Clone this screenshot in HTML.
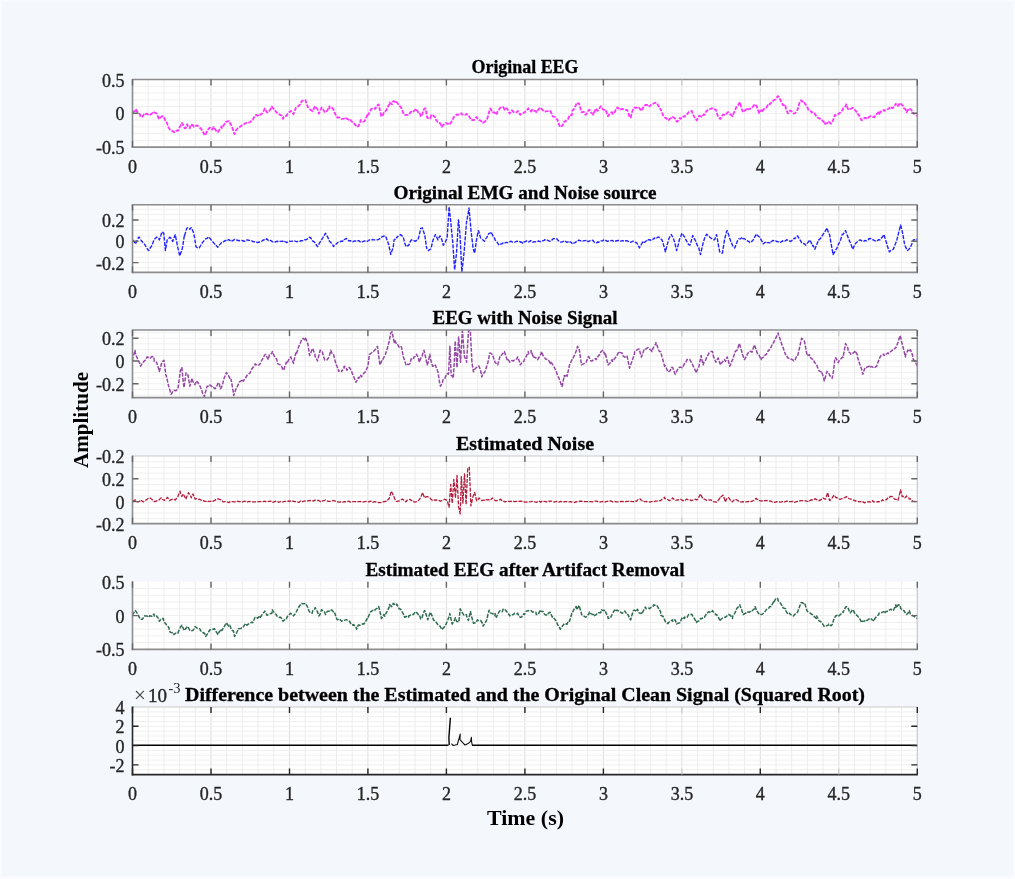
<!DOCTYPE html>
<html><head><meta charset="utf-8"><title>EEG artifact removal</title>
<style>html,body{margin:0;padding:0;background:#f4f7fc;}svg{display:block;filter:blur(0.7px)}</style>
</head><body>
<svg width="1015" height="879" viewBox="0 0 1015 879"><rect width="1015" height="879" fill="#f9fbfe"/><rect x="2" y="1.5" width="1011" height="875" fill="#f4f7fc"/><rect x="132.5" y="79.5" width="784.8" height="67.6" fill="#ffffff"/><line x1="148.2" y1="79.5" x2="148.2" y2="147.1" stroke="#ececec" stroke-width="1"/><line x1="163.9" y1="79.5" x2="163.9" y2="147.1" stroke="#ececec" stroke-width="1"/><line x1="179.6" y1="79.5" x2="179.6" y2="147.1" stroke="#ececec" stroke-width="1"/><line x1="195.3" y1="79.5" x2="195.3" y2="147.1" stroke="#ececec" stroke-width="1"/><line x1="226.7" y1="79.5" x2="226.7" y2="147.1" stroke="#ececec" stroke-width="1"/><line x1="242.4" y1="79.5" x2="242.4" y2="147.1" stroke="#ececec" stroke-width="1"/><line x1="258.1" y1="79.5" x2="258.1" y2="147.1" stroke="#ececec" stroke-width="1"/><line x1="273.8" y1="79.5" x2="273.8" y2="147.1" stroke="#ececec" stroke-width="1"/><line x1="305.2" y1="79.5" x2="305.2" y2="147.1" stroke="#ececec" stroke-width="1"/><line x1="320.9" y1="79.5" x2="320.9" y2="147.1" stroke="#ececec" stroke-width="1"/><line x1="336.5" y1="79.5" x2="336.5" y2="147.1" stroke="#ececec" stroke-width="1"/><line x1="352.2" y1="79.5" x2="352.2" y2="147.1" stroke="#ececec" stroke-width="1"/><line x1="383.6" y1="79.5" x2="383.6" y2="147.1" stroke="#ececec" stroke-width="1"/><line x1="399.3" y1="79.5" x2="399.3" y2="147.1" stroke="#ececec" stroke-width="1"/><line x1="415.0" y1="79.5" x2="415.0" y2="147.1" stroke="#ececec" stroke-width="1"/><line x1="430.7" y1="79.5" x2="430.7" y2="147.1" stroke="#ececec" stroke-width="1"/><line x1="462.1" y1="79.5" x2="462.1" y2="147.1" stroke="#ececec" stroke-width="1"/><line x1="477.8" y1="79.5" x2="477.8" y2="147.1" stroke="#ececec" stroke-width="1"/><line x1="493.5" y1="79.5" x2="493.5" y2="147.1" stroke="#ececec" stroke-width="1"/><line x1="509.2" y1="79.5" x2="509.2" y2="147.1" stroke="#ececec" stroke-width="1"/><line x1="540.6" y1="79.5" x2="540.6" y2="147.1" stroke="#ececec" stroke-width="1"/><line x1="556.3" y1="79.5" x2="556.3" y2="147.1" stroke="#ececec" stroke-width="1"/><line x1="572.0" y1="79.5" x2="572.0" y2="147.1" stroke="#ececec" stroke-width="1"/><line x1="587.7" y1="79.5" x2="587.7" y2="147.1" stroke="#ececec" stroke-width="1"/><line x1="619.1" y1="79.5" x2="619.1" y2="147.1" stroke="#ececec" stroke-width="1"/><line x1="634.8" y1="79.5" x2="634.8" y2="147.1" stroke="#ececec" stroke-width="1"/><line x1="650.5" y1="79.5" x2="650.5" y2="147.1" stroke="#ececec" stroke-width="1"/><line x1="666.2" y1="79.5" x2="666.2" y2="147.1" stroke="#ececec" stroke-width="1"/><line x1="697.6" y1="79.5" x2="697.6" y2="147.1" stroke="#ececec" stroke-width="1"/><line x1="713.3" y1="79.5" x2="713.3" y2="147.1" stroke="#ececec" stroke-width="1"/><line x1="728.9" y1="79.5" x2="728.9" y2="147.1" stroke="#ececec" stroke-width="1"/><line x1="744.6" y1="79.5" x2="744.6" y2="147.1" stroke="#ececec" stroke-width="1"/><line x1="776.0" y1="79.5" x2="776.0" y2="147.1" stroke="#ececec" stroke-width="1"/><line x1="791.7" y1="79.5" x2="791.7" y2="147.1" stroke="#ececec" stroke-width="1"/><line x1="807.4" y1="79.5" x2="807.4" y2="147.1" stroke="#ececec" stroke-width="1"/><line x1="823.1" y1="79.5" x2="823.1" y2="147.1" stroke="#ececec" stroke-width="1"/><line x1="854.5" y1="79.5" x2="854.5" y2="147.1" stroke="#ececec" stroke-width="1"/><line x1="870.2" y1="79.5" x2="870.2" y2="147.1" stroke="#ececec" stroke-width="1"/><line x1="885.9" y1="79.5" x2="885.9" y2="147.1" stroke="#ececec" stroke-width="1"/><line x1="901.6" y1="79.5" x2="901.6" y2="147.1" stroke="#ececec" stroke-width="1"/><line x1="211.0" y1="79.5" x2="211.0" y2="147.1" stroke="#dddddd" stroke-width="1"/><line x1="289.5" y1="79.5" x2="289.5" y2="147.1" stroke="#dddddd" stroke-width="1"/><line x1="367.9" y1="79.5" x2="367.9" y2="147.1" stroke="#dddddd" stroke-width="1"/><line x1="446.4" y1="79.5" x2="446.4" y2="147.1" stroke="#dddddd" stroke-width="1"/><line x1="524.9" y1="79.5" x2="524.9" y2="147.1" stroke="#dddddd" stroke-width="1"/><line x1="603.4" y1="79.5" x2="603.4" y2="147.1" stroke="#dddddd" stroke-width="1"/><line x1="681.9" y1="79.5" x2="681.9" y2="147.1" stroke="#dddddd" stroke-width="1"/><line x1="760.3" y1="79.5" x2="760.3" y2="147.1" stroke="#dddddd" stroke-width="1"/><line x1="838.8" y1="79.5" x2="838.8" y2="147.1" stroke="#dddddd" stroke-width="1"/><line x1="132.5" y1="86.3" x2="917.3" y2="86.3" stroke="#efefef" stroke-width="1"/><line x1="132.5" y1="93.0" x2="917.3" y2="93.0" stroke="#efefef" stroke-width="1"/><line x1="132.5" y1="99.8" x2="917.3" y2="99.8" stroke="#efefef" stroke-width="1"/><line x1="132.5" y1="106.5" x2="917.3" y2="106.5" stroke="#efefef" stroke-width="1"/><line x1="132.5" y1="113.3" x2="917.3" y2="113.3" stroke="#efefef" stroke-width="1"/><line x1="132.5" y1="120.1" x2="917.3" y2="120.1" stroke="#efefef" stroke-width="1"/><line x1="132.5" y1="126.8" x2="917.3" y2="126.8" stroke="#efefef" stroke-width="1"/><line x1="132.5" y1="133.6" x2="917.3" y2="133.6" stroke="#efefef" stroke-width="1"/><line x1="132.5" y1="140.3" x2="917.3" y2="140.3" stroke="#efefef" stroke-width="1"/><rect x="132.5" y="204.8" width="784.8" height="67.6" fill="#ffffff"/><line x1="148.2" y1="204.8" x2="148.2" y2="272.4" stroke="#ececec" stroke-width="1"/><line x1="163.9" y1="204.8" x2="163.9" y2="272.4" stroke="#ececec" stroke-width="1"/><line x1="179.6" y1="204.8" x2="179.6" y2="272.4" stroke="#ececec" stroke-width="1"/><line x1="195.3" y1="204.8" x2="195.3" y2="272.4" stroke="#ececec" stroke-width="1"/><line x1="226.7" y1="204.8" x2="226.7" y2="272.4" stroke="#ececec" stroke-width="1"/><line x1="242.4" y1="204.8" x2="242.4" y2="272.4" stroke="#ececec" stroke-width="1"/><line x1="258.1" y1="204.8" x2="258.1" y2="272.4" stroke="#ececec" stroke-width="1"/><line x1="273.8" y1="204.8" x2="273.8" y2="272.4" stroke="#ececec" stroke-width="1"/><line x1="305.2" y1="204.8" x2="305.2" y2="272.4" stroke="#ececec" stroke-width="1"/><line x1="320.9" y1="204.8" x2="320.9" y2="272.4" stroke="#ececec" stroke-width="1"/><line x1="336.5" y1="204.8" x2="336.5" y2="272.4" stroke="#ececec" stroke-width="1"/><line x1="352.2" y1="204.8" x2="352.2" y2="272.4" stroke="#ececec" stroke-width="1"/><line x1="383.6" y1="204.8" x2="383.6" y2="272.4" stroke="#ececec" stroke-width="1"/><line x1="399.3" y1="204.8" x2="399.3" y2="272.4" stroke="#ececec" stroke-width="1"/><line x1="415.0" y1="204.8" x2="415.0" y2="272.4" stroke="#ececec" stroke-width="1"/><line x1="430.7" y1="204.8" x2="430.7" y2="272.4" stroke="#ececec" stroke-width="1"/><line x1="462.1" y1="204.8" x2="462.1" y2="272.4" stroke="#ececec" stroke-width="1"/><line x1="477.8" y1="204.8" x2="477.8" y2="272.4" stroke="#ececec" stroke-width="1"/><line x1="493.5" y1="204.8" x2="493.5" y2="272.4" stroke="#ececec" stroke-width="1"/><line x1="509.2" y1="204.8" x2="509.2" y2="272.4" stroke="#ececec" stroke-width="1"/><line x1="540.6" y1="204.8" x2="540.6" y2="272.4" stroke="#ececec" stroke-width="1"/><line x1="556.3" y1="204.8" x2="556.3" y2="272.4" stroke="#ececec" stroke-width="1"/><line x1="572.0" y1="204.8" x2="572.0" y2="272.4" stroke="#ececec" stroke-width="1"/><line x1="587.7" y1="204.8" x2="587.7" y2="272.4" stroke="#ececec" stroke-width="1"/><line x1="619.1" y1="204.8" x2="619.1" y2="272.4" stroke="#ececec" stroke-width="1"/><line x1="634.8" y1="204.8" x2="634.8" y2="272.4" stroke="#ececec" stroke-width="1"/><line x1="650.5" y1="204.8" x2="650.5" y2="272.4" stroke="#ececec" stroke-width="1"/><line x1="666.2" y1="204.8" x2="666.2" y2="272.4" stroke="#ececec" stroke-width="1"/><line x1="697.6" y1="204.8" x2="697.6" y2="272.4" stroke="#ececec" stroke-width="1"/><line x1="713.3" y1="204.8" x2="713.3" y2="272.4" stroke="#ececec" stroke-width="1"/><line x1="728.9" y1="204.8" x2="728.9" y2="272.4" stroke="#ececec" stroke-width="1"/><line x1="744.6" y1="204.8" x2="744.6" y2="272.4" stroke="#ececec" stroke-width="1"/><line x1="776.0" y1="204.8" x2="776.0" y2="272.4" stroke="#ececec" stroke-width="1"/><line x1="791.7" y1="204.8" x2="791.7" y2="272.4" stroke="#ececec" stroke-width="1"/><line x1="807.4" y1="204.8" x2="807.4" y2="272.4" stroke="#ececec" stroke-width="1"/><line x1="823.1" y1="204.8" x2="823.1" y2="272.4" stroke="#ececec" stroke-width="1"/><line x1="854.5" y1="204.8" x2="854.5" y2="272.4" stroke="#ececec" stroke-width="1"/><line x1="870.2" y1="204.8" x2="870.2" y2="272.4" stroke="#ececec" stroke-width="1"/><line x1="885.9" y1="204.8" x2="885.9" y2="272.4" stroke="#ececec" stroke-width="1"/><line x1="901.6" y1="204.8" x2="901.6" y2="272.4" stroke="#ececec" stroke-width="1"/><line x1="211.0" y1="204.8" x2="211.0" y2="272.4" stroke="#dddddd" stroke-width="1"/><line x1="289.5" y1="204.8" x2="289.5" y2="272.4" stroke="#dddddd" stroke-width="1"/><line x1="367.9" y1="204.8" x2="367.9" y2="272.4" stroke="#dddddd" stroke-width="1"/><line x1="446.4" y1="204.8" x2="446.4" y2="272.4" stroke="#dddddd" stroke-width="1"/><line x1="524.9" y1="204.8" x2="524.9" y2="272.4" stroke="#dddddd" stroke-width="1"/><line x1="603.4" y1="204.8" x2="603.4" y2="272.4" stroke="#dddddd" stroke-width="1"/><line x1="681.9" y1="204.8" x2="681.9" y2="272.4" stroke="#dddddd" stroke-width="1"/><line x1="760.3" y1="204.8" x2="760.3" y2="272.4" stroke="#dddddd" stroke-width="1"/><line x1="838.8" y1="204.8" x2="838.8" y2="272.4" stroke="#dddddd" stroke-width="1"/><line x1="132.5" y1="209.3" x2="917.3" y2="209.3" stroke="#efefef" stroke-width="1"/><line x1="132.5" y1="214.6" x2="917.3" y2="214.6" stroke="#efefef" stroke-width="1"/><line x1="132.5" y1="220.0" x2="917.3" y2="220.0" stroke="#efefef" stroke-width="1"/><line x1="132.5" y1="225.3" x2="917.3" y2="225.3" stroke="#efefef" stroke-width="1"/><line x1="132.5" y1="230.6" x2="917.3" y2="230.6" stroke="#efefef" stroke-width="1"/><line x1="132.5" y1="236.0" x2="917.3" y2="236.0" stroke="#efefef" stroke-width="1"/><line x1="132.5" y1="241.3" x2="917.3" y2="241.3" stroke="#efefef" stroke-width="1"/><line x1="132.5" y1="246.6" x2="917.3" y2="246.6" stroke="#efefef" stroke-width="1"/><line x1="132.5" y1="252.0" x2="917.3" y2="252.0" stroke="#efefef" stroke-width="1"/><line x1="132.5" y1="257.3" x2="917.3" y2="257.3" stroke="#efefef" stroke-width="1"/><line x1="132.5" y1="262.6" x2="917.3" y2="262.6" stroke="#efefef" stroke-width="1"/><line x1="132.5" y1="267.9" x2="917.3" y2="267.9" stroke="#efefef" stroke-width="1"/><rect x="132.5" y="330.0" width="784.8" height="67.6" fill="#ffffff"/><line x1="148.2" y1="330.0" x2="148.2" y2="397.6" stroke="#ececec" stroke-width="1"/><line x1="163.9" y1="330.0" x2="163.9" y2="397.6" stroke="#ececec" stroke-width="1"/><line x1="179.6" y1="330.0" x2="179.6" y2="397.6" stroke="#ececec" stroke-width="1"/><line x1="195.3" y1="330.0" x2="195.3" y2="397.6" stroke="#ececec" stroke-width="1"/><line x1="226.7" y1="330.0" x2="226.7" y2="397.6" stroke="#ececec" stroke-width="1"/><line x1="242.4" y1="330.0" x2="242.4" y2="397.6" stroke="#ececec" stroke-width="1"/><line x1="258.1" y1="330.0" x2="258.1" y2="397.6" stroke="#ececec" stroke-width="1"/><line x1="273.8" y1="330.0" x2="273.8" y2="397.6" stroke="#ececec" stroke-width="1"/><line x1="305.2" y1="330.0" x2="305.2" y2="397.6" stroke="#ececec" stroke-width="1"/><line x1="320.9" y1="330.0" x2="320.9" y2="397.6" stroke="#ececec" stroke-width="1"/><line x1="336.5" y1="330.0" x2="336.5" y2="397.6" stroke="#ececec" stroke-width="1"/><line x1="352.2" y1="330.0" x2="352.2" y2="397.6" stroke="#ececec" stroke-width="1"/><line x1="383.6" y1="330.0" x2="383.6" y2="397.6" stroke="#ececec" stroke-width="1"/><line x1="399.3" y1="330.0" x2="399.3" y2="397.6" stroke="#ececec" stroke-width="1"/><line x1="415.0" y1="330.0" x2="415.0" y2="397.6" stroke="#ececec" stroke-width="1"/><line x1="430.7" y1="330.0" x2="430.7" y2="397.6" stroke="#ececec" stroke-width="1"/><line x1="462.1" y1="330.0" x2="462.1" y2="397.6" stroke="#ececec" stroke-width="1"/><line x1="477.8" y1="330.0" x2="477.8" y2="397.6" stroke="#ececec" stroke-width="1"/><line x1="493.5" y1="330.0" x2="493.5" y2="397.6" stroke="#ececec" stroke-width="1"/><line x1="509.2" y1="330.0" x2="509.2" y2="397.6" stroke="#ececec" stroke-width="1"/><line x1="540.6" y1="330.0" x2="540.6" y2="397.6" stroke="#ececec" stroke-width="1"/><line x1="556.3" y1="330.0" x2="556.3" y2="397.6" stroke="#ececec" stroke-width="1"/><line x1="572.0" y1="330.0" x2="572.0" y2="397.6" stroke="#ececec" stroke-width="1"/><line x1="587.7" y1="330.0" x2="587.7" y2="397.6" stroke="#ececec" stroke-width="1"/><line x1="619.1" y1="330.0" x2="619.1" y2="397.6" stroke="#ececec" stroke-width="1"/><line x1="634.8" y1="330.0" x2="634.8" y2="397.6" stroke="#ececec" stroke-width="1"/><line x1="650.5" y1="330.0" x2="650.5" y2="397.6" stroke="#ececec" stroke-width="1"/><line x1="666.2" y1="330.0" x2="666.2" y2="397.6" stroke="#ececec" stroke-width="1"/><line x1="697.6" y1="330.0" x2="697.6" y2="397.6" stroke="#ececec" stroke-width="1"/><line x1="713.3" y1="330.0" x2="713.3" y2="397.6" stroke="#ececec" stroke-width="1"/><line x1="728.9" y1="330.0" x2="728.9" y2="397.6" stroke="#ececec" stroke-width="1"/><line x1="744.6" y1="330.0" x2="744.6" y2="397.6" stroke="#ececec" stroke-width="1"/><line x1="776.0" y1="330.0" x2="776.0" y2="397.6" stroke="#ececec" stroke-width="1"/><line x1="791.7" y1="330.0" x2="791.7" y2="397.6" stroke="#ececec" stroke-width="1"/><line x1="807.4" y1="330.0" x2="807.4" y2="397.6" stroke="#ececec" stroke-width="1"/><line x1="823.1" y1="330.0" x2="823.1" y2="397.6" stroke="#ececec" stroke-width="1"/><line x1="854.5" y1="330.0" x2="854.5" y2="397.6" stroke="#ececec" stroke-width="1"/><line x1="870.2" y1="330.0" x2="870.2" y2="397.6" stroke="#ececec" stroke-width="1"/><line x1="885.9" y1="330.0" x2="885.9" y2="397.6" stroke="#ececec" stroke-width="1"/><line x1="901.6" y1="330.0" x2="901.6" y2="397.6" stroke="#ececec" stroke-width="1"/><line x1="211.0" y1="330.0" x2="211.0" y2="397.6" stroke="#dddddd" stroke-width="1"/><line x1="289.5" y1="330.0" x2="289.5" y2="397.6" stroke="#dddddd" stroke-width="1"/><line x1="367.9" y1="330.0" x2="367.9" y2="397.6" stroke="#dddddd" stroke-width="1"/><line x1="446.4" y1="330.0" x2="446.4" y2="397.6" stroke="#dddddd" stroke-width="1"/><line x1="524.9" y1="330.0" x2="524.9" y2="397.6" stroke="#dddddd" stroke-width="1"/><line x1="603.4" y1="330.0" x2="603.4" y2="397.6" stroke="#dddddd" stroke-width="1"/><line x1="681.9" y1="330.0" x2="681.9" y2="397.6" stroke="#dddddd" stroke-width="1"/><line x1="760.3" y1="330.0" x2="760.3" y2="397.6" stroke="#dddddd" stroke-width="1"/><line x1="838.8" y1="330.0" x2="838.8" y2="397.6" stroke="#dddddd" stroke-width="1"/><line x1="132.5" y1="332.6" x2="917.3" y2="332.6" stroke="#efefef" stroke-width="1"/><line x1="132.5" y1="338.2" x2="917.3" y2="338.2" stroke="#efefef" stroke-width="1"/><line x1="132.5" y1="343.9" x2="917.3" y2="343.9" stroke="#efefef" stroke-width="1"/><line x1="132.5" y1="349.6" x2="917.3" y2="349.6" stroke="#efefef" stroke-width="1"/><line x1="132.5" y1="355.3" x2="917.3" y2="355.3" stroke="#efefef" stroke-width="1"/><line x1="132.5" y1="361.0" x2="917.3" y2="361.0" stroke="#efefef" stroke-width="1"/><line x1="132.5" y1="366.7" x2="917.3" y2="366.7" stroke="#efefef" stroke-width="1"/><line x1="132.5" y1="372.4" x2="917.3" y2="372.4" stroke="#efefef" stroke-width="1"/><line x1="132.5" y1="378.1" x2="917.3" y2="378.1" stroke="#efefef" stroke-width="1"/><line x1="132.5" y1="383.8" x2="917.3" y2="383.8" stroke="#efefef" stroke-width="1"/><line x1="132.5" y1="389.4" x2="917.3" y2="389.4" stroke="#efefef" stroke-width="1"/><line x1="132.5" y1="395.1" x2="917.3" y2="395.1" stroke="#efefef" stroke-width="1"/><rect x="132.5" y="456.0" width="784.8" height="67.6" fill="#ffffff"/><line x1="148.2" y1="456.0" x2="148.2" y2="523.6" stroke="#ececec" stroke-width="1"/><line x1="163.9" y1="456.0" x2="163.9" y2="523.6" stroke="#ececec" stroke-width="1"/><line x1="179.6" y1="456.0" x2="179.6" y2="523.6" stroke="#ececec" stroke-width="1"/><line x1="195.3" y1="456.0" x2="195.3" y2="523.6" stroke="#ececec" stroke-width="1"/><line x1="226.7" y1="456.0" x2="226.7" y2="523.6" stroke="#ececec" stroke-width="1"/><line x1="242.4" y1="456.0" x2="242.4" y2="523.6" stroke="#ececec" stroke-width="1"/><line x1="258.1" y1="456.0" x2="258.1" y2="523.6" stroke="#ececec" stroke-width="1"/><line x1="273.8" y1="456.0" x2="273.8" y2="523.6" stroke="#ececec" stroke-width="1"/><line x1="305.2" y1="456.0" x2="305.2" y2="523.6" stroke="#ececec" stroke-width="1"/><line x1="320.9" y1="456.0" x2="320.9" y2="523.6" stroke="#ececec" stroke-width="1"/><line x1="336.5" y1="456.0" x2="336.5" y2="523.6" stroke="#ececec" stroke-width="1"/><line x1="352.2" y1="456.0" x2="352.2" y2="523.6" stroke="#ececec" stroke-width="1"/><line x1="383.6" y1="456.0" x2="383.6" y2="523.6" stroke="#ececec" stroke-width="1"/><line x1="399.3" y1="456.0" x2="399.3" y2="523.6" stroke="#ececec" stroke-width="1"/><line x1="415.0" y1="456.0" x2="415.0" y2="523.6" stroke="#ececec" stroke-width="1"/><line x1="430.7" y1="456.0" x2="430.7" y2="523.6" stroke="#ececec" stroke-width="1"/><line x1="462.1" y1="456.0" x2="462.1" y2="523.6" stroke="#ececec" stroke-width="1"/><line x1="477.8" y1="456.0" x2="477.8" y2="523.6" stroke="#ececec" stroke-width="1"/><line x1="493.5" y1="456.0" x2="493.5" y2="523.6" stroke="#ececec" stroke-width="1"/><line x1="509.2" y1="456.0" x2="509.2" y2="523.6" stroke="#ececec" stroke-width="1"/><line x1="540.6" y1="456.0" x2="540.6" y2="523.6" stroke="#ececec" stroke-width="1"/><line x1="556.3" y1="456.0" x2="556.3" y2="523.6" stroke="#ececec" stroke-width="1"/><line x1="572.0" y1="456.0" x2="572.0" y2="523.6" stroke="#ececec" stroke-width="1"/><line x1="587.7" y1="456.0" x2="587.7" y2="523.6" stroke="#ececec" stroke-width="1"/><line x1="619.1" y1="456.0" x2="619.1" y2="523.6" stroke="#ececec" stroke-width="1"/><line x1="634.8" y1="456.0" x2="634.8" y2="523.6" stroke="#ececec" stroke-width="1"/><line x1="650.5" y1="456.0" x2="650.5" y2="523.6" stroke="#ececec" stroke-width="1"/><line x1="666.2" y1="456.0" x2="666.2" y2="523.6" stroke="#ececec" stroke-width="1"/><line x1="697.6" y1="456.0" x2="697.6" y2="523.6" stroke="#ececec" stroke-width="1"/><line x1="713.3" y1="456.0" x2="713.3" y2="523.6" stroke="#ececec" stroke-width="1"/><line x1="728.9" y1="456.0" x2="728.9" y2="523.6" stroke="#ececec" stroke-width="1"/><line x1="744.6" y1="456.0" x2="744.6" y2="523.6" stroke="#ececec" stroke-width="1"/><line x1="776.0" y1="456.0" x2="776.0" y2="523.6" stroke="#ececec" stroke-width="1"/><line x1="791.7" y1="456.0" x2="791.7" y2="523.6" stroke="#ececec" stroke-width="1"/><line x1="807.4" y1="456.0" x2="807.4" y2="523.6" stroke="#ececec" stroke-width="1"/><line x1="823.1" y1="456.0" x2="823.1" y2="523.6" stroke="#ececec" stroke-width="1"/><line x1="854.5" y1="456.0" x2="854.5" y2="523.6" stroke="#ececec" stroke-width="1"/><line x1="870.2" y1="456.0" x2="870.2" y2="523.6" stroke="#ececec" stroke-width="1"/><line x1="885.9" y1="456.0" x2="885.9" y2="523.6" stroke="#ececec" stroke-width="1"/><line x1="901.6" y1="456.0" x2="901.6" y2="523.6" stroke="#ececec" stroke-width="1"/><line x1="211.0" y1="456.0" x2="211.0" y2="523.6" stroke="#dddddd" stroke-width="1"/><line x1="289.5" y1="456.0" x2="289.5" y2="523.6" stroke="#dddddd" stroke-width="1"/><line x1="367.9" y1="456.0" x2="367.9" y2="523.6" stroke="#dddddd" stroke-width="1"/><line x1="446.4" y1="456.0" x2="446.4" y2="523.6" stroke="#dddddd" stroke-width="1"/><line x1="524.9" y1="456.0" x2="524.9" y2="523.6" stroke="#dddddd" stroke-width="1"/><line x1="603.4" y1="456.0" x2="603.4" y2="523.6" stroke="#dddddd" stroke-width="1"/><line x1="681.9" y1="456.0" x2="681.9" y2="523.6" stroke="#dddddd" stroke-width="1"/><line x1="760.3" y1="456.0" x2="760.3" y2="523.6" stroke="#dddddd" stroke-width="1"/><line x1="838.8" y1="456.0" x2="838.8" y2="523.6" stroke="#dddddd" stroke-width="1"/><line x1="132.5" y1="461.7" x2="917.3" y2="461.7" stroke="#efefef" stroke-width="1"/><line x1="132.5" y1="467.4" x2="917.3" y2="467.4" stroke="#efefef" stroke-width="1"/><line x1="132.5" y1="473.1" x2="917.3" y2="473.1" stroke="#efefef" stroke-width="1"/><line x1="132.5" y1="478.8" x2="917.3" y2="478.8" stroke="#efefef" stroke-width="1"/><line x1="132.5" y1="484.5" x2="917.3" y2="484.5" stroke="#efefef" stroke-width="1"/><line x1="132.5" y1="490.2" x2="917.3" y2="490.2" stroke="#efefef" stroke-width="1"/><line x1="132.5" y1="495.9" x2="917.3" y2="495.9" stroke="#efefef" stroke-width="1"/><line x1="132.5" y1="501.6" x2="917.3" y2="501.6" stroke="#efefef" stroke-width="1"/><line x1="132.5" y1="507.3" x2="917.3" y2="507.3" stroke="#efefef" stroke-width="1"/><line x1="132.5" y1="513.0" x2="917.3" y2="513.0" stroke="#efefef" stroke-width="1"/><line x1="132.5" y1="518.7" x2="917.3" y2="518.7" stroke="#efefef" stroke-width="1"/><rect x="132.5" y="581.8" width="784.8" height="67.6" fill="#ffffff"/><line x1="148.2" y1="581.8" x2="148.2" y2="649.4" stroke="#ececec" stroke-width="1"/><line x1="163.9" y1="581.8" x2="163.9" y2="649.4" stroke="#ececec" stroke-width="1"/><line x1="179.6" y1="581.8" x2="179.6" y2="649.4" stroke="#ececec" stroke-width="1"/><line x1="195.3" y1="581.8" x2="195.3" y2="649.4" stroke="#ececec" stroke-width="1"/><line x1="226.7" y1="581.8" x2="226.7" y2="649.4" stroke="#ececec" stroke-width="1"/><line x1="242.4" y1="581.8" x2="242.4" y2="649.4" stroke="#ececec" stroke-width="1"/><line x1="258.1" y1="581.8" x2="258.1" y2="649.4" stroke="#ececec" stroke-width="1"/><line x1="273.8" y1="581.8" x2="273.8" y2="649.4" stroke="#ececec" stroke-width="1"/><line x1="305.2" y1="581.8" x2="305.2" y2="649.4" stroke="#ececec" stroke-width="1"/><line x1="320.9" y1="581.8" x2="320.9" y2="649.4" stroke="#ececec" stroke-width="1"/><line x1="336.5" y1="581.8" x2="336.5" y2="649.4" stroke="#ececec" stroke-width="1"/><line x1="352.2" y1="581.8" x2="352.2" y2="649.4" stroke="#ececec" stroke-width="1"/><line x1="383.6" y1="581.8" x2="383.6" y2="649.4" stroke="#ececec" stroke-width="1"/><line x1="399.3" y1="581.8" x2="399.3" y2="649.4" stroke="#ececec" stroke-width="1"/><line x1="415.0" y1="581.8" x2="415.0" y2="649.4" stroke="#ececec" stroke-width="1"/><line x1="430.7" y1="581.8" x2="430.7" y2="649.4" stroke="#ececec" stroke-width="1"/><line x1="462.1" y1="581.8" x2="462.1" y2="649.4" stroke="#ececec" stroke-width="1"/><line x1="477.8" y1="581.8" x2="477.8" y2="649.4" stroke="#ececec" stroke-width="1"/><line x1="493.5" y1="581.8" x2="493.5" y2="649.4" stroke="#ececec" stroke-width="1"/><line x1="509.2" y1="581.8" x2="509.2" y2="649.4" stroke="#ececec" stroke-width="1"/><line x1="540.6" y1="581.8" x2="540.6" y2="649.4" stroke="#ececec" stroke-width="1"/><line x1="556.3" y1="581.8" x2="556.3" y2="649.4" stroke="#ececec" stroke-width="1"/><line x1="572.0" y1="581.8" x2="572.0" y2="649.4" stroke="#ececec" stroke-width="1"/><line x1="587.7" y1="581.8" x2="587.7" y2="649.4" stroke="#ececec" stroke-width="1"/><line x1="619.1" y1="581.8" x2="619.1" y2="649.4" stroke="#ececec" stroke-width="1"/><line x1="634.8" y1="581.8" x2="634.8" y2="649.4" stroke="#ececec" stroke-width="1"/><line x1="650.5" y1="581.8" x2="650.5" y2="649.4" stroke="#ececec" stroke-width="1"/><line x1="666.2" y1="581.8" x2="666.2" y2="649.4" stroke="#ececec" stroke-width="1"/><line x1="697.6" y1="581.8" x2="697.6" y2="649.4" stroke="#ececec" stroke-width="1"/><line x1="713.3" y1="581.8" x2="713.3" y2="649.4" stroke="#ececec" stroke-width="1"/><line x1="728.9" y1="581.8" x2="728.9" y2="649.4" stroke="#ececec" stroke-width="1"/><line x1="744.6" y1="581.8" x2="744.6" y2="649.4" stroke="#ececec" stroke-width="1"/><line x1="776.0" y1="581.8" x2="776.0" y2="649.4" stroke="#ececec" stroke-width="1"/><line x1="791.7" y1="581.8" x2="791.7" y2="649.4" stroke="#ececec" stroke-width="1"/><line x1="807.4" y1="581.8" x2="807.4" y2="649.4" stroke="#ececec" stroke-width="1"/><line x1="823.1" y1="581.8" x2="823.1" y2="649.4" stroke="#ececec" stroke-width="1"/><line x1="854.5" y1="581.8" x2="854.5" y2="649.4" stroke="#ececec" stroke-width="1"/><line x1="870.2" y1="581.8" x2="870.2" y2="649.4" stroke="#ececec" stroke-width="1"/><line x1="885.9" y1="581.8" x2="885.9" y2="649.4" stroke="#ececec" stroke-width="1"/><line x1="901.6" y1="581.8" x2="901.6" y2="649.4" stroke="#ececec" stroke-width="1"/><line x1="211.0" y1="581.8" x2="211.0" y2="649.4" stroke="#dddddd" stroke-width="1"/><line x1="289.5" y1="581.8" x2="289.5" y2="649.4" stroke="#dddddd" stroke-width="1"/><line x1="367.9" y1="581.8" x2="367.9" y2="649.4" stroke="#dddddd" stroke-width="1"/><line x1="446.4" y1="581.8" x2="446.4" y2="649.4" stroke="#dddddd" stroke-width="1"/><line x1="524.9" y1="581.8" x2="524.9" y2="649.4" stroke="#dddddd" stroke-width="1"/><line x1="603.4" y1="581.8" x2="603.4" y2="649.4" stroke="#dddddd" stroke-width="1"/><line x1="681.9" y1="581.8" x2="681.9" y2="649.4" stroke="#dddddd" stroke-width="1"/><line x1="760.3" y1="581.8" x2="760.3" y2="649.4" stroke="#dddddd" stroke-width="1"/><line x1="838.8" y1="581.8" x2="838.8" y2="649.4" stroke="#dddddd" stroke-width="1"/><line x1="132.5" y1="588.6" x2="917.3" y2="588.6" stroke="#efefef" stroke-width="1"/><line x1="132.5" y1="595.3" x2="917.3" y2="595.3" stroke="#efefef" stroke-width="1"/><line x1="132.5" y1="602.1" x2="917.3" y2="602.1" stroke="#efefef" stroke-width="1"/><line x1="132.5" y1="608.8" x2="917.3" y2="608.8" stroke="#efefef" stroke-width="1"/><line x1="132.5" y1="615.6" x2="917.3" y2="615.6" stroke="#efefef" stroke-width="1"/><line x1="132.5" y1="622.4" x2="917.3" y2="622.4" stroke="#efefef" stroke-width="1"/><line x1="132.5" y1="629.1" x2="917.3" y2="629.1" stroke="#efefef" stroke-width="1"/><line x1="132.5" y1="635.9" x2="917.3" y2="635.9" stroke="#efefef" stroke-width="1"/><line x1="132.5" y1="642.6" x2="917.3" y2="642.6" stroke="#efefef" stroke-width="1"/><rect x="132.5" y="707.0" width="784.8" height="67.6" fill="#ffffff"/><line x1="148.2" y1="707.0" x2="148.2" y2="774.6" stroke="#ececec" stroke-width="1"/><line x1="163.9" y1="707.0" x2="163.9" y2="774.6" stroke="#ececec" stroke-width="1"/><line x1="179.6" y1="707.0" x2="179.6" y2="774.6" stroke="#ececec" stroke-width="1"/><line x1="195.3" y1="707.0" x2="195.3" y2="774.6" stroke="#ececec" stroke-width="1"/><line x1="226.7" y1="707.0" x2="226.7" y2="774.6" stroke="#ececec" stroke-width="1"/><line x1="242.4" y1="707.0" x2="242.4" y2="774.6" stroke="#ececec" stroke-width="1"/><line x1="258.1" y1="707.0" x2="258.1" y2="774.6" stroke="#ececec" stroke-width="1"/><line x1="273.8" y1="707.0" x2="273.8" y2="774.6" stroke="#ececec" stroke-width="1"/><line x1="305.2" y1="707.0" x2="305.2" y2="774.6" stroke="#ececec" stroke-width="1"/><line x1="320.9" y1="707.0" x2="320.9" y2="774.6" stroke="#ececec" stroke-width="1"/><line x1="336.5" y1="707.0" x2="336.5" y2="774.6" stroke="#ececec" stroke-width="1"/><line x1="352.2" y1="707.0" x2="352.2" y2="774.6" stroke="#ececec" stroke-width="1"/><line x1="383.6" y1="707.0" x2="383.6" y2="774.6" stroke="#ececec" stroke-width="1"/><line x1="399.3" y1="707.0" x2="399.3" y2="774.6" stroke="#ececec" stroke-width="1"/><line x1="415.0" y1="707.0" x2="415.0" y2="774.6" stroke="#ececec" stroke-width="1"/><line x1="430.7" y1="707.0" x2="430.7" y2="774.6" stroke="#ececec" stroke-width="1"/><line x1="462.1" y1="707.0" x2="462.1" y2="774.6" stroke="#ececec" stroke-width="1"/><line x1="477.8" y1="707.0" x2="477.8" y2="774.6" stroke="#ececec" stroke-width="1"/><line x1="493.5" y1="707.0" x2="493.5" y2="774.6" stroke="#ececec" stroke-width="1"/><line x1="509.2" y1="707.0" x2="509.2" y2="774.6" stroke="#ececec" stroke-width="1"/><line x1="540.6" y1="707.0" x2="540.6" y2="774.6" stroke="#ececec" stroke-width="1"/><line x1="556.3" y1="707.0" x2="556.3" y2="774.6" stroke="#ececec" stroke-width="1"/><line x1="572.0" y1="707.0" x2="572.0" y2="774.6" stroke="#ececec" stroke-width="1"/><line x1="587.7" y1="707.0" x2="587.7" y2="774.6" stroke="#ececec" stroke-width="1"/><line x1="619.1" y1="707.0" x2="619.1" y2="774.6" stroke="#ececec" stroke-width="1"/><line x1="634.8" y1="707.0" x2="634.8" y2="774.6" stroke="#ececec" stroke-width="1"/><line x1="650.5" y1="707.0" x2="650.5" y2="774.6" stroke="#ececec" stroke-width="1"/><line x1="666.2" y1="707.0" x2="666.2" y2="774.6" stroke="#ececec" stroke-width="1"/><line x1="697.6" y1="707.0" x2="697.6" y2="774.6" stroke="#ececec" stroke-width="1"/><line x1="713.3" y1="707.0" x2="713.3" y2="774.6" stroke="#ececec" stroke-width="1"/><line x1="728.9" y1="707.0" x2="728.9" y2="774.6" stroke="#ececec" stroke-width="1"/><line x1="744.6" y1="707.0" x2="744.6" y2="774.6" stroke="#ececec" stroke-width="1"/><line x1="776.0" y1="707.0" x2="776.0" y2="774.6" stroke="#ececec" stroke-width="1"/><line x1="791.7" y1="707.0" x2="791.7" y2="774.6" stroke="#ececec" stroke-width="1"/><line x1="807.4" y1="707.0" x2="807.4" y2="774.6" stroke="#ececec" stroke-width="1"/><line x1="823.1" y1="707.0" x2="823.1" y2="774.6" stroke="#ececec" stroke-width="1"/><line x1="854.5" y1="707.0" x2="854.5" y2="774.6" stroke="#ececec" stroke-width="1"/><line x1="870.2" y1="707.0" x2="870.2" y2="774.6" stroke="#ececec" stroke-width="1"/><line x1="885.9" y1="707.0" x2="885.9" y2="774.6" stroke="#ececec" stroke-width="1"/><line x1="901.6" y1="707.0" x2="901.6" y2="774.6" stroke="#ececec" stroke-width="1"/><line x1="211.0" y1="707.0" x2="211.0" y2="774.6" stroke="#dddddd" stroke-width="1"/><line x1="289.5" y1="707.0" x2="289.5" y2="774.6" stroke="#dddddd" stroke-width="1"/><line x1="367.9" y1="707.0" x2="367.9" y2="774.6" stroke="#dddddd" stroke-width="1"/><line x1="446.4" y1="707.0" x2="446.4" y2="774.6" stroke="#dddddd" stroke-width="1"/><line x1="524.9" y1="707.0" x2="524.9" y2="774.6" stroke="#dddddd" stroke-width="1"/><line x1="603.4" y1="707.0" x2="603.4" y2="774.6" stroke="#dddddd" stroke-width="1"/><line x1="681.9" y1="707.0" x2="681.9" y2="774.6" stroke="#dddddd" stroke-width="1"/><line x1="760.3" y1="707.0" x2="760.3" y2="774.6" stroke="#dddddd" stroke-width="1"/><line x1="838.8" y1="707.0" x2="838.8" y2="774.6" stroke="#dddddd" stroke-width="1"/><line x1="132.5" y1="711.9" x2="917.3" y2="711.9" stroke="#efefef" stroke-width="1"/><line x1="132.5" y1="716.7" x2="917.3" y2="716.7" stroke="#efefef" stroke-width="1"/><line x1="132.5" y1="721.5" x2="917.3" y2="721.5" stroke="#efefef" stroke-width="1"/><line x1="132.5" y1="726.3" x2="917.3" y2="726.3" stroke="#efefef" stroke-width="1"/><line x1="132.5" y1="731.1" x2="917.3" y2="731.1" stroke="#efefef" stroke-width="1"/><line x1="132.5" y1="736.0" x2="917.3" y2="736.0" stroke="#efefef" stroke-width="1"/><line x1="132.5" y1="740.8" x2="917.3" y2="740.8" stroke="#efefef" stroke-width="1"/><line x1="132.5" y1="745.6" x2="917.3" y2="745.6" stroke="#efefef" stroke-width="1"/><line x1="132.5" y1="750.4" x2="917.3" y2="750.4" stroke="#efefef" stroke-width="1"/><line x1="132.5" y1="755.2" x2="917.3" y2="755.2" stroke="#efefef" stroke-width="1"/><line x1="132.5" y1="760.1" x2="917.3" y2="760.1" stroke="#efefef" stroke-width="1"/><line x1="132.5" y1="764.9" x2="917.3" y2="764.9" stroke="#efefef" stroke-width="1"/><line x1="132.5" y1="769.7" x2="917.3" y2="769.7" stroke="#efefef" stroke-width="1"/><polyline points="132.7,112.7 132.7,112.2 135.1,110.8 135.9,109.0 137.5,112.1 139.9,114.2 140.6,117.0 142.3,116.7 144.6,113.6 144.7,114.1 147.1,113.7 148.6,114.9 149.5,115.1 151.9,113.4 153.9,111.7 154.3,112.3 156.6,113.6 156.7,113.7 159.1,119.1 159.3,118.9 161.5,116.5 163.3,116.2 163.9,117.3 165.9,121.6 166.3,121.7 168.7,127.8 169.9,129.5 171.1,130.4 173.5,131.6 173.9,132.2 175.9,130.6 177.9,130.9 178.3,129.8 180.7,125.3 181.9,122.9 183.1,124.9 184.5,128.2 185.5,128.4 187.2,124.2 187.9,126.4 189.9,128.2 190.3,124.8 192.7,125.0 193.8,126.9 195.1,126.1 196.5,125.5 197.5,125.7 199.9,128.0 200.5,128.2 202.3,130.4 204.7,135.3 205.8,134.1 207.1,130.7 209.5,127.8 209.8,127.7 211.9,129.7 213.8,126.9 214.3,128.3 216.7,131.5 217.8,132.2 219.1,130.3 221.5,126.5 221.8,128.2 223.9,124.9 225.8,121.6 226.3,121.8 228.7,121.0 229.8,122.9 231.1,124.7 232.4,128.2 233.5,131.0 234.5,134.1 235.9,130.5 237.7,128.2 238.3,127.7 240.7,126.4 241.7,125.5 243.1,124.9 245.5,123.1 247.0,122.9 247.9,123.1 250.3,122.0 252.4,119.7 252.7,119.7 255.1,115.5 256.4,114.9 257.5,115.8 259.9,114.3 260.3,114.9 262.3,113.4 264.3,109.6 264.7,108.5 267.1,112.5 268.3,112.2 269.5,110.9 271.9,106.5 272.3,107.5 274.3,109.4 276.3,112.2 276.7,112.5 279.1,114.4 280.3,114.9 281.5,115.5 283.0,118.9 283.9,116.7 286.3,115.8 286.9,114.9 288.7,112.6 290.9,110.9 291.1,111.3 293.5,114.3 293.6,113.6 295.9,107.8 297.6,106.9 298.3,106.2 300.7,103.9 301.6,101.1 303.1,100.7 305.5,100.1 305.6,101.1 307.9,107.1 308.8,108.3 310.3,109.7 312.2,110.9 312.7,111.2 314.9,106.4 315.1,106.3 317.5,109.3 318.9,113.6 319.9,111.2 321.5,107.5 322.3,107.8 324.7,112.1 325.5,112.2 327.1,110.9 329.5,106.3 329.5,108.3 331.9,107.6 333.5,109.6 334.3,112.2 336.7,116.7 337.5,117.6 339.1,117.3 341.5,118.9 341.5,118.9 343.9,118.6 345.5,117.6 346.3,118.4 348.7,119.7 349.5,118.9 351.1,120.8 353.4,122.9 353.5,122.8 355.9,125.6 356.6,126.9 358.3,126.3 360.1,122.9 360.7,120.0 363.1,121.7 364.1,121.6 365.5,119.3 367.9,113.6 368.1,114.9 370.3,110.9 370.7,109.6 372.7,108.2 374.7,108.3 375.1,109.0 377.5,105.4 378.7,104.3 379.9,110.2 381.4,116.2 382.3,116.4 384.0,112.2 384.7,112.1 386.7,109.6 387.1,107.8 389.4,104.3 389.5,102.4 391.9,104.4 393.3,101.1 394.3,101.4 396.7,102.9 396.7,102.1 399.1,105.5 400.6,106.9 401.5,108.3 403.9,114.4 404.6,114.9 406.3,114.9 408.6,114.9 408.7,114.9 411.1,111.6 411.3,112.2 413.5,111.4 415.3,109.6 415.9,108.7 418.3,112.4 419.3,112.2 420.7,116.2 421.9,116.2 423.1,111.0 424.6,108.3 425.5,108.4 427.2,117.6 427.9,117.9 430.3,118.6 431.2,114.9 432.7,115.1 435.1,117.2 435.2,118.9 437.5,121.8 439.2,122.9 439.9,122.8 441.9,126.9 442.3,125.9 444.7,123.7 445.9,122.9 447.1,123.9 449.5,123.6 449.9,124.2 451.9,120.9 453.8,117.0 454.3,116.6 456.7,114.5 457.8,114.9 459.1,114.4 461.5,113.3 461.8,114.4 463.9,114.6 465.8,114.9 466.3,113.9 468.7,115.5 469.8,117.6 471.1,120.1 473.5,119.9 473.8,120.2 475.9,117.7 476.5,117.0 478.3,119.8 479.1,120.2 480.7,120.7 483.1,122.6 483.1,122.9 485.5,121.0 487.1,118.9 487.9,116.5 489.8,109.6 490.3,108.5 492.7,112.5 493.7,112.2 495.1,112.8 496.4,114.9 497.5,111.5 499.1,109.6 499.9,108.0 502.3,107.0 503.1,106.9 504.7,109.7 505.7,108.3 507.1,108.6 509.5,113.4 509.7,113.6 511.9,110.3 513.7,112.2 514.3,112.1 516.7,112.3 517.7,110.9 519.1,112.7 520.3,114.9 521.5,113.4 523.9,112.8 524.3,112.2 526.3,111.2 528.3,108.3 528.7,109.2 531.1,111.5 532.3,109.6 533.5,110.6 535.9,111.2 536.3,112.2 538.3,109.7 540.3,107.5 540.7,107.8 543.1,110.5 544.3,111.7 545.5,111.4 547.9,111.2 548.3,110.9 550.3,110.9 552.3,114.9 552.7,116.3 555.1,117.0 556.3,118.9 557.5,119.9 559.9,126.9 560.2,126.9 562.3,125.8 564.2,121.6 564.7,121.9 567.1,119.9 568.2,118.9 569.5,115.3 571.9,115.1 572.2,110.9 574.3,108.6 576.2,104.3 576.7,102.8 578.9,103.7 579.1,103.4 581.5,112.1 581.5,112.2 583.9,111.9 585.5,114.9 586.3,114.1 588.7,110.2 589.5,109.6 591.1,112.6 593.5,114.7 593.5,113.6 595.9,108.7 597.5,110.9 598.3,110.3 600.7,106.2 601.5,107.5 603.1,109.6 605.5,109.8 605.5,109.6 607.9,116.2 608.1,116.2 610.3,112.8 612.1,112.2 612.7,113.9 615.1,111.7 616.1,108.3 617.5,107.4 619.9,109.9 620.1,109.6 622.3,108.8 624.1,109.6 624.7,109.9 627.1,110.0 628.1,112.2 629.5,117.2 630.7,117.6 631.9,112.5 633.4,108.3 634.3,107.6 636.7,107.8 637.4,106.9 639.1,107.8 641.4,110.9 641.5,110.5 643.9,106.4 645.4,104.8 646.3,105.0 648.7,104.7 649.4,106.4 651.1,104.7 653.3,103.7 653.5,103.5 655.9,102.7 656.7,102.9 658.3,105.7 660.6,109.6 660.7,109.3 663.1,115.3 664.6,117.6 665.5,117.7 667.9,119.6 668.6,120.2 670.3,118.3 672.6,117.6 672.7,117.0 675.1,118.5 676.6,121.6 677.5,121.6 679.9,118.0 680.6,118.9 682.3,116.9 684.6,116.2 684.7,116.6 687.1,114.2 688.6,112.2 689.5,112.1 691.9,110.9 692.6,113.6 694.3,116.9 696.6,120.2 696.7,120.4 699.1,116.0 700.5,116.2 701.5,116.8 703.9,114.3 704.5,114.9 706.3,111.2 708.5,109.6 708.7,109.7 711.1,108.5 712.5,108.3 713.5,109.4 715.9,109.7 716.5,112.2 718.3,117.3 720.5,118.9 720.7,118.0 723.1,114.5 724.5,114.9 725.5,115.0 727.9,112.2 728.5,112.2 730.3,114.4 732.5,116.2 732.7,115.4 735.1,110.1 736.5,106.9 737.5,106.1 739.9,102.1 739.9,102.9 742.3,110.6 743.1,112.2 744.7,110.6 747.1,108.6 747.1,109.6 749.5,108.9 751.1,108.3 751.9,108.0 754.3,104.8 755.1,104.3 756.7,106.4 759.1,113.0 759.1,112.2 761.5,110.1 761.7,112.2 763.9,108.9 765.7,108.3 766.3,107.8 768.7,103.7 769.7,104.3 771.1,102.9 773.5,100.4 773.7,100.3 775.9,99.2 777.7,96.3 778.3,96.1 780.7,100.5 781.7,102.9 783.1,105.2 785.5,105.0 785.7,108.3 787.9,113.4 789.7,110.9 790.3,110.5 792.7,112.0 793.6,113.6 795.1,113.2 797.5,109.7 797.6,109.6 799.9,101.5 801.1,100.3 802.3,101.5 804.3,101.6 804.7,103.4 807.1,106.6 808.3,109.6 809.5,110.0 811.9,112.6 812.3,112.2 814.3,113.1 816.3,116.2 816.7,117.0 819.1,118.3 820.2,118.9 821.5,119.7 823.9,122.0 824.2,124.2 826.3,123.3 828.2,122.9 828.7,121.8 831.1,123.7 832.2,122.3 833.5,119.0 834.9,114.9 835.9,115.5 838.3,113.9 838.9,113.6 840.7,112.1 842.9,109.6 843.1,108.3 845.5,106.4 846.3,104.3 847.9,109.0 849.5,109.6 850.3,109.0 852.7,107.8 853.5,108.3 855.1,110.1 857.5,113.0 857.5,113.6 859.9,116.7 861.5,120.2 862.3,119.9 864.7,117.8 865.5,117.6 867.1,118.9 869.5,116.6 870.8,116.2 871.9,116.6 874.3,117.4 874.8,116.2 876.7,114.0 878.8,112.2 879.1,113.9 881.5,110.8 883.9,110.0 884.1,110.9 886.3,109.5 888.1,109.0 888.7,108.8 891.1,106.8 892.1,108.3 893.5,107.3 895.9,103.7 896.1,105.6 898.3,105.8 900.0,102.9 900.7,103.6 903.1,106.2 904.0,108.3 905.5,109.3 906.7,112.2 907.9,110.0 909.4,108.3 910.3,109.2 912.7,111.4 913.3,113.6 915.1,113.6 917.3,116.2" fill="none" stroke="#ff33ff" stroke-width="1.8" stroke-linejoin="round" stroke-dasharray="4 1.3" /><polyline points="132.7,240.0 132.7,239.9 134.7,242.6 135.3,243.9 136.7,241.5 138.7,237.1 139.3,237.2 140.7,239.9 142.7,242.3 143.3,242.6 144.7,244.4 146.7,248.0 148.6,250.5 148.7,250.6 150.7,247.2 151.3,246.6 152.7,243.6 153.9,239.9 154.7,239.0 156.6,237.2 156.7,237.1 158.7,238.9 159.3,239.9 160.7,235.9 161.9,231.9 162.7,232.4 163.8,233.3 164.7,243.0 165.4,250.5 166.7,242.9 167.2,239.9 168.7,238.5 169.9,237.2 170.7,237.9 172.6,241.2 172.7,241.4 174.7,236.1 175.2,234.6 176.7,241.9 177.9,247.9 178.7,251.4 179.7,255.9 180.7,253.1 181.9,250.5 182.7,246.2 184.5,234.6 184.7,235.3 186.7,228.4 187.2,227.9 188.7,227.8 189.9,229.3 190.7,227.9 191.7,227.9 192.7,230.7 193.8,233.3 194.7,238.4 196.0,246.6 196.7,247.4 198.7,248.0 199.2,247.9 200.7,245.5 202.4,242.6 202.7,242.4 204.7,239.8 205.8,238.6 206.7,238.6 208.5,237.2 208.7,236.9 210.7,239.2 211.1,239.9 212.7,241.8 214.6,243.9 214.7,244.9 216.7,245.8 217.8,247.3 218.7,245.8 220.7,243.6 221.8,242.6 222.7,242.6 224.7,240.9 225.8,240.4 226.7,241.1 228.7,239.5 230.7,241.0 231.1,240.4 232.7,240.8 234.7,239.4 236.4,239.9 236.7,240.0 238.7,240.7 240.7,240.4 241.7,240.4 242.7,240.8 244.7,241.3 246.7,240.1 247.0,239.9 248.7,240.2 250.7,240.4 252.4,241.2 252.7,241.6 254.7,241.7 256.7,242.2 257.7,242.6 258.7,242.2 260.7,241.9 261.7,241.2 262.7,240.4 264.7,239.5 265.7,239.9 266.7,238.8 268.7,240.8 270.7,240.4 271.0,240.4 272.7,241.9 274.7,241.9 275.0,242.0 276.7,241.3 278.7,241.5 279.0,241.2 280.7,241.4 282.7,241.2 284.3,242.0 284.7,241.5 286.7,242.6 288.7,241.6 289.6,241.2 290.7,241.4 292.7,241.1 294.7,240.9 294.9,241.2 296.7,241.7 298.7,241.2 300.2,241.2 300.7,240.7 302.7,240.6 304.7,239.7 305.6,239.9 306.7,239.3 308.7,238.4 309.6,237.2 310.7,237.9 312.7,241.1 313.5,241.2 314.7,242.4 316.7,245.5 317.5,246.6 318.7,244.3 320.7,241.2 321.5,239.9 322.7,238.0 324.7,234.5 325.5,233.3 326.7,235.2 328.7,239.2 329.5,241.2 330.7,242.4 332.7,244.7 333.5,246.6 334.7,245.3 336.7,243.6 337.5,242.6 338.7,242.4 340.7,241.3 342.7,241.2 342.8,239.9 344.7,239.4 346.7,238.4 346.8,238.6 348.7,240.7 350.7,240.6 350.8,241.2 352.7,241.7 354.7,240.8 356.1,241.2 356.7,241.5 358.7,240.6 360.7,242.4 361.4,242.0 362.7,241.7 364.7,240.9 365.4,241.2 366.7,241.7 368.7,240.5 369.4,239.9 370.7,239.9 372.7,239.5 373.4,239.9 374.7,239.9 376.7,239.8 377.4,239.9 378.7,239.4 380.7,238.1 381.4,237.2 382.7,236.5 384.7,235.9 385.4,235.9 386.7,238.9 388.0,242.6 388.7,244.7 390.7,254.1 390.7,254.5 392.7,248.6 393.3,246.6 394.0,239.9 394.7,239.6 396.7,237.2 396.7,237.9 398.7,235.5 400.6,234.6 400.7,234.9 402.7,236.4 403.3,237.2 404.7,243.0 406.0,246.6 406.7,246.2 408.6,245.2 408.7,245.4 410.7,240.7 411.3,239.9 412.7,240.0 414.7,241.1 415.3,241.2 416.7,240.3 417.9,239.9 418.7,237.2 420.6,229.3 420.7,228.4 422.5,227.9 422.7,228.9 424.6,234.6 424.7,234.6 426.7,248.4 426.7,247.9 428.6,250.5 428.7,250.3 430.7,249.0 431.2,247.9 432.7,241.1 433.1,239.9 434.7,236.2 435.2,234.6 436.7,237.0 437.9,239.9 438.7,238.2 440.0,235.9 440.7,237.3 441.9,239.9 442.7,242.9 443.2,245.2 444.7,243.3 445.1,242.6 446.7,238.9 447.2,237.2 448.7,213.5 449.1,206.7 450.7,221.3 450.7,221.3 452.5,239.9 452.7,241.3 454.6,269.7 454.7,269.1 456.5,253.2 456.7,250.3 458.4,220.0 458.7,221.6 460.0,234.6 460.7,249.1 461.8,271.9 462.7,264.7 464.0,253.2 464.7,244.6 466.6,221.3 466.7,221.5 468.7,210.2 469.0,208.0 470.7,226.7 471.1,231.9 472.7,244.5 473.0,247.9 474.6,253.2 474.7,252.9 476.5,239.9 476.7,239.0 478.3,230.6 478.7,231.2 480.4,237.2 480.7,238.0 482.7,239.7 484.4,241.2 484.7,239.9 486.7,237.6 488.4,234.6 488.7,233.7 490.7,232.9 491.1,231.9 492.7,235.5 494.7,238.5 495.1,239.9 496.7,241.6 498.7,244.7 499.1,245.2 500.7,244.0 502.7,243.6 503.1,242.6 504.7,242.9 506.7,242.4 507.0,242.6 508.7,242.7 510.7,241.2 512.4,242.0 512.7,242.1 514.7,242.1 516.7,241.3 517.7,241.2 518.7,241.0 520.7,242.0 522.7,243.0 523.0,242.0 524.7,241.9 526.7,240.9 528.3,241.2 528.7,242.0 530.7,240.6 532.7,242.1 533.6,242.0 534.7,241.6 536.7,242.0 538.7,240.9 539.0,241.2 540.7,241.6 542.7,240.8 544.3,240.4 544.7,239.6 546.7,239.8 548.7,240.9 549.6,241.2 550.7,241.2 552.7,239.3 553.6,238.6 554.7,238.6 556.3,238.6 556.7,238.8 558.7,241.0 560.2,242.0 560.7,242.1 562.7,241.7 564.2,241.2 564.7,240.8 566.7,242.3 568.2,242.0 568.7,242.8 570.7,241.9 572.7,244.1 573.5,243.1 574.7,242.9 576.7,241.4 577.5,241.2 578.7,240.1 580.7,240.9 581.5,240.4 582.7,240.9 584.7,240.6 586.7,240.3 586.8,241.2 588.7,241.5 590.7,240.4 592.2,240.4 592.7,240.3 594.7,242.6 596.7,242.8 597.5,242.0 598.7,242.2 600.7,240.9 602.7,240.8 602.8,240.4 604.7,239.6 606.7,241.1 608.1,241.2 608.7,240.9 610.7,240.6 612.7,240.4 613.4,241.2 614.7,241.3 616.7,240.8 618.7,240.5 618.8,240.4 620.7,241.1 622.7,240.6 624.1,241.2 624.7,240.7 626.7,240.7 628.7,241.7 629.4,242.0 630.7,242.2 632.7,241.3 633.4,241.2 634.7,242.2 636.1,242.6 636.7,242.9 638.7,246.3 639.5,247.9 640.7,245.6 642.7,242.0 642.7,242.6 644.7,242.2 646.7,240.4 646.7,239.9 648.7,239.8 650.7,240.0 650.7,240.4 652.7,239.5 654.7,237.9 654.7,238.6 656.7,238.0 658.0,237.2 658.7,237.0 660.7,238.8 662.0,239.9 662.7,241.8 664.7,249.0 665.4,251.9 666.7,246.6 668.6,239.9 668.7,239.0 670.7,235.3 671.3,234.6 672.7,237.0 673.9,239.9 674.7,242.6 676.6,250.5 676.7,250.3 678.7,243.1 679.3,239.9 680.7,236.8 681.9,233.3 682.7,234.2 684.6,237.2 684.7,237.8 686.7,241.1 687.2,242.6 688.7,244.7 689.9,245.2 690.7,242.8 692.6,235.9 692.7,235.4 694.7,239.4 695.2,239.9 696.7,243.9 697.9,246.6 698.7,247.5 700.5,254.5 700.7,253.6 702.7,244.8 703.2,242.6 704.7,238.0 706.4,234.6 706.7,234.3 708.7,235.9 709.9,237.2 710.7,238.0 712.7,239.3 713.8,239.9 714.7,239.6 716.5,234.6 716.7,235.2 718.7,246.8 719.7,251.9 720.7,252.4 722.4,253.2 722.7,251.4 724.5,239.9 724.7,238.7 726.7,231.3 727.1,230.6 728.7,234.9 729.3,237.2 730.7,241.1 731.9,243.9 732.7,245.8 734.6,247.9 734.7,248.0 736.7,243.0 737.8,239.9 738.7,238.9 740.7,238.8 741.8,237.2 742.7,238.5 744.7,238.9 745.8,239.9 746.7,240.5 748.7,241.3 749.8,242.6 750.7,242.6 752.7,240.5 753.2,239.9 754.7,237.2 756.4,234.0 756.7,234.5 758.7,236.5 759.6,237.2 760.7,239.1 762.7,242.5 763.1,243.9 764.7,242.7 766.7,241.8 767.0,242.6 768.7,242.6 770.7,243.2 771.0,242.0 772.7,240.5 774.7,240.6 775.0,240.4 776.7,241.5 778.7,241.9 779.0,242.6 780.7,242.1 782.7,240.8 783.0,241.2 784.7,241.3 786.7,239.7 787.0,239.9 788.7,240.5 790.7,241.5 791.0,241.2 792.7,239.9 794.7,237.9 795.0,238.6 796.7,236.6 797.6,235.9 798.7,238.0 800.7,240.9 801.6,242.6 802.7,243.4 804.7,244.0 805.6,245.2 806.7,243.9 808.7,241.5 809.6,239.9 810.7,241.7 812.7,245.9 812.8,245.2 814.7,248.6 814.9,249.2 816.7,244.6 818.7,239.7 818.9,239.9 820.7,238.2 822.7,234.9 822.9,234.6 824.7,232.2 826.7,228.6 826.9,227.9 828.7,233.2 829.6,234.6 830.7,241.6 832.7,252.3 833.0,254.5 834.7,251.9 836.2,249.2 836.7,248.8 838.7,243.5 839.4,242.6 840.7,239.5 842.1,234.6 842.7,234.5 844.7,232.1 845.5,230.6 846.7,233.6 848.7,239.2 849.0,239.9 850.7,243.6 852.7,249.1 852.7,249.2 854.7,245.1 856.2,242.6 856.7,242.3 858.7,240.6 860.1,239.9 860.7,240.2 862.7,241.3 864.1,241.2 864.7,240.4 866.7,240.9 868.1,239.9 868.7,238.8 870.7,238.5 872.1,239.4 872.7,239.6 874.7,240.6 876.1,241.2 876.7,241.3 878.7,239.6 880.1,239.9 880.7,239.1 882.7,236.5 884.1,234.6 884.7,237.2 886.7,243.5 886.7,243.9 888.7,249.9 889.4,251.9 890.7,250.5 892.7,249.6 893.4,249.2 894.7,245.6 896.7,240.8 896.9,239.9 898.7,232.3 900.6,225.3 900.7,225.1 902.7,233.4 902.7,233.3 904.7,245.1 904.8,245.2 906.7,249.1 907.5,250.5 908.7,249.5 910.2,247.9 910.7,246.5 912.7,242.2 913.3,239.9 914.7,239.7 916.7,239.7 917.3,238.6" fill="none" stroke="#2222ff" stroke-width="1.4" stroke-linejoin="round" stroke-dasharray="4 1.3" /><polyline points="132.7,360.7 132.7,358.3 135.1,350.4 135.3,352.9 137.5,358.8 138.0,359.6 139.9,363.6 140.6,366.2 142.3,363.3 143.3,362.2 144.7,360.6 146.0,359.6 147.1,356.8 149.5,358.1 150.0,358.3 151.9,356.6 153.9,356.9 154.3,361.5 156.6,362.2 156.7,362.7 159.1,370.4 159.3,371.6 161.5,363.5 161.9,362.2 163.9,360.2 164.0,360.9 165.9,375.5 166.3,375.7 168.6,386.2 168.7,386.0 171.1,394.2 171.2,394.2 173.5,390.5 173.9,390.2 175.9,390.7 177.9,388.8 178.3,386.0 180.5,370.2 180.7,370.0 181.9,367.6 183.1,380.6 184.0,387.5 185.5,376.7 185.9,372.9 187.9,374.8 188.0,375.5 189.9,386.2 190.3,384.4 192.0,378.2 192.7,380.8 193.8,383.5 195.1,384.6 196.5,380.9 197.5,382.0 199.2,384.9 199.9,386.0 201.8,390.2 202.3,392.5 204.5,396.8 204.7,395.0 207.1,386.2 207.1,386.2 209.5,386.1 209.8,384.9 211.9,386.6 212.5,386.2 214.3,388.1 215.1,388.8 216.7,386.6 217.8,383.5 219.1,382.7 220.4,388.8 221.5,387.5 223.1,382.2 223.9,378.8 225.8,374.2 226.3,372.5 228.4,375.5 228.7,376.2 231.1,380.3 231.1,379.5 233.5,393.3 233.7,395.5 235.9,388.9 236.4,388.8 238.3,384.2 239.1,382.2 240.7,381.1 243.1,379.5 243.1,381.2 245.5,378.0 247.0,375.5 247.9,374.7 250.3,372.6 251.0,370.2 252.7,367.8 255.0,364.9 255.1,363.8 257.5,365.6 259.0,364.9 259.9,364.2 262.3,359.2 263.0,358.3 264.7,354.8 265.7,354.3 267.1,357.3 268.3,359.6 269.5,354.3 271.9,353.3 272.3,351.6 274.3,356.1 275.0,356.9 276.7,359.2 277.6,363.6 279.1,364.4 280.3,364.9 281.5,366.1 283.0,370.2 283.9,369.6 286.3,362.3 286.9,363.6 288.7,359.6 290.9,356.9 291.1,358.0 293.5,363.4 293.6,362.2 295.9,352.9 296.3,354.3 298.3,347.7 298.9,346.3 300.7,342.3 301.6,339.6 303.1,338.4 305.5,340.2 305.6,338.3 307.9,343.8 308.2,346.3 309.6,355.6 310.3,354.3 312.2,348.9 312.7,348.6 314.9,354.3 315.1,356.4 317.5,360.7 317.5,360.9 319.9,351.2 320.2,350.3 322.3,351.3 322.9,354.3 324.7,359.9 325.5,359.6 327.1,359.7 328.2,358.3 329.5,355.3 330.8,350.3 331.9,353.2 333.5,354.3 334.3,357.7 336.2,364.9 336.7,365.4 338.8,371.6 339.1,370.6 341.5,370.6 341.5,371.6 343.9,368.4 344.1,366.2 346.3,367.7 346.8,370.2 348.7,367.6 349.5,367.6 351.1,370.4 352.1,372.9 353.5,376.3 355.9,382.3 356.1,382.2 358.3,377.5 358.8,378.2 360.7,375.2 361.4,376.9 363.1,374.4 364.1,372.9 365.5,371.6 367.9,366.2 368.1,364.9 369.4,354.3 370.3,354.0 372.7,351.7 373.4,351.6 375.1,349.7 377.4,346.3 377.5,346.5 379.9,364.6 380.0,364.9 382.3,359.5 382.7,359.6 384.7,355.8 385.4,354.3 387.1,349.1 388.0,346.3 389.5,339.8 390.7,333.0 391.9,332.1 392.0,331.7 394.3,342.6 394.7,341.0 395.3,341.0 396.7,344.8 398.0,345.0 399.1,347.3 400.6,346.3 401.5,347.1 403.3,356.9 403.9,358.2 406.0,364.9 406.3,364.1 408.7,364.6 410.0,363.6 411.1,359.0 413.5,359.1 413.9,356.9 415.9,356.3 416.6,354.3 418.3,357.7 419.3,362.2 420.7,358.3 421.9,356.9 423.1,352.4 424.0,350.3 425.5,356.8 427.2,364.9 427.9,363.2 429.9,354.3 430.3,358.3 432.6,366.2 432.7,365.9 435.1,365.9 435.2,364.9 437.5,370.7 437.9,371.6 439.9,384.5 440.5,386.2 442.3,382.8 443.2,379.5 444.7,379.0 445.9,375.5 447.1,373.6 448.5,374.2 449.5,354.3 449.9,346.3 451.2,375.5 451.9,375.4 453.3,378.2 454.3,361.0 455.2,341.0 456.7,363.0 457.0,367.6 458.6,337.0 459.1,342.4 460.5,362.2 461.5,345.4 462.4,330.9 463.9,349.9 464.5,356.9 466.3,360.5 466.6,362.2 468.5,330.5 468.7,330.5 470.3,330.5 471.1,345.1 471.9,362.2 473.5,371.8 473.8,370.2 475.9,367.9 476.5,367.6 478.3,366.0 479.1,366.2 480.7,371.0 481.8,376.9 483.1,373.3 484.4,372.9 485.5,370.4 487.1,364.9 487.9,362.5 489.8,352.9 490.3,353.2 492.4,354.3 492.7,355.4 495.1,362.3 495.1,362.2 497.5,364.8 497.7,364.9 499.9,356.7 500.4,356.9 502.3,353.9 504.4,351.6 504.7,352.6 507.0,359.6 507.1,358.7 509.5,361.4 509.7,362.2 511.9,360.5 513.7,360.9 514.3,359.9 516.7,359.0 517.7,356.9 519.1,360.6 520.3,364.9 521.5,363.2 523.9,361.2 524.3,359.6 526.3,356.5 528.3,351.6 528.7,353.8 531.0,352.9 531.1,350.5 533.5,357.7 533.6,356.9 535.9,357.8 537.6,359.6 538.3,358.5 540.7,354.5 541.6,351.6 543.1,355.8 544.3,356.9 545.5,359.0 547.9,359.5 548.3,359.6 550.3,363.5 550.9,362.2 552.7,364.5 553.6,366.2 555.1,369.0 556.3,371.6 557.5,375.5 558.9,378.2 559.9,380.4 561.6,386.2 562.3,386.0 564.2,375.5 564.7,376.6 566.9,374.2 567.1,376.3 569.5,365.2 569.6,364.9 571.9,359.8 572.2,359.6 574.3,355.7 574.9,354.3 576.7,349.8 577.5,346.3 579.1,348.8 579.4,350.3 581.5,364.9 581.5,364.9 583.9,363.7 584.2,363.6 586.3,362.1 588.2,356.9 588.7,356.6 591.1,361.1 592.2,360.9 593.5,359.7 595.9,358.5 596.2,359.6 598.3,355.9 600.1,354.3 600.7,352.1 602.8,350.3 603.1,350.8 605.5,355.5 605.5,354.3 607.9,364.0 608.1,364.9 610.3,362.8 612.1,359.6 612.7,361.2 615.1,357.9 616.1,356.9 617.5,354.5 618.8,351.6 619.9,352.4 622.3,353.2 622.8,355.6 624.7,357.1 626.7,356.9 627.1,356.1 629.4,367.6 629.5,368.2 631.9,361.4 632.1,360.9 634.3,354.6 634.7,351.6 636.7,350.2 638.7,348.9 639.1,349.0 641.4,356.9 641.5,357.1 643.9,350.0 644.0,350.3 646.3,348.6 648.0,347.6 648.7,348.3 651.1,350.5 652.0,351.6 652.7,348.9 653.5,347.4 655.9,343.6 655.9,342.6 658.3,349.0 659.3,351.6 660.7,351.7 662.0,356.9 663.1,360.5 664.6,366.2 665.5,365.9 667.9,371.9 668.6,371.6 670.3,370.6 671.3,367.6 672.7,367.5 675.1,374.0 675.3,374.2 677.5,369.7 677.9,368.9 679.9,367.0 681.9,367.6 682.3,367.7 684.7,363.4 685.9,362.2 687.1,359.4 689.5,359.6 689.9,359.6 691.9,363.3 692.6,364.9 694.3,368.4 696.6,372.9 696.7,371.1 699.1,366.1 699.2,364.9 701.1,355.6 701.5,358.2 703.2,364.9 703.9,362.2 705.9,359.6 706.3,358.0 708.7,353.7 709.1,352.9 711.1,351.5 712.5,351.6 713.5,356.6 715.9,362.2 716.0,362.2 717.8,358.3 718.3,358.1 720.5,364.9 720.7,363.7 723.1,361.4 724.5,359.6 725.5,361.4 727.1,356.9 727.9,359.2 729.8,366.2 730.3,365.2 732.5,359.6 732.7,359.6 735.1,351.7 735.1,351.6 737.5,349.7 739.1,343.6 739.9,345.2 741.8,351.6 742.3,354.0 744.4,359.6 744.7,359.3 747.1,355.1 747.1,354.3 749.5,351.3 751.1,351.6 751.9,352.2 754.3,345.3 754.5,345.0 756.7,351.2 757.7,354.3 759.1,355.2 761.2,359.6 761.5,358.4 763.9,356.9 764.4,355.6 766.3,354.3 768.4,350.3 768.7,350.7 771.1,347.2 772.4,343.6 773.5,342.8 775.0,339.6 775.9,337.9 778.2,333.0 778.3,334.1 780.3,339.6 780.7,341.3 783.0,347.6 783.1,347.6 785.5,354.6 785.7,354.3 787.9,358.0 789.7,358.3 790.3,358.9 792.7,359.8 793.6,360.9 795.1,359.7 796.3,356.9 797.5,356.3 799.0,350.3 799.9,346.0 801.6,338.3 802.3,338.8 804.3,341.0 804.7,342.7 806.9,354.3 807.1,355.8 809.5,354.6 809.6,356.9 811.9,358.9 813.6,359.6 814.3,362.3 816.7,364.7 817.6,367.6 819.1,370.8 821.5,372.1 821.6,371.6 823.9,378.9 824.2,380.9 826.3,374.0 826.9,371.6 828.7,372.4 829.6,375.5 831.1,376.4 832.2,378.2 833.5,371.1 834.9,358.3 835.9,357.8 838.3,362.7 838.9,360.9 840.7,359.0 842.9,356.9 843.1,357.1 845.5,344.0 845.5,343.6 847.9,348.0 848.2,351.6 850.3,353.0 850.8,354.3 852.7,353.3 854.8,351.6 855.1,350.7 857.5,355.2 857.5,356.9 859.9,364.5 860.1,364.9 862.3,371.5 862.8,374.2 864.7,368.5 865.5,368.9 867.1,367.0 869.5,366.2 869.5,367.3 871.9,366.5 873.4,367.6 874.3,367.9 876.7,366.2 877.4,363.6 879.1,359.6 880.1,356.9 881.5,355.1 883.9,354.1 884.1,355.6 886.3,354.1 888.1,352.9 888.7,353.6 891.1,351.3 892.1,350.3 893.5,350.0 895.9,347.2 896.1,347.6 898.3,341.4 900.0,335.6 900.7,337.5 902.7,346.3 903.1,347.3 905.4,356.9 905.5,355.2 907.9,350.1 908.0,351.6 910.3,349.9 910.7,350.3 912.7,355.8 913.3,359.6 915.1,361.3 917.3,366.2" fill="none" stroke="#9448a4" stroke-width="1.5" stroke-linejoin="round" stroke-dasharray="4 1.3" /><polyline points="132.7,500.8 132.7,501.1 134.7,500.2 135.3,500.0 136.7,501.6 138.0,501.9 138.7,501.8 140.6,500.5 140.7,499.9 142.7,501.5 143.3,501.9 144.7,500.7 146.0,500.0 146.7,499.7 148.7,497.9 150.0,497.9 150.7,498.5 152.7,500.1 153.9,501.1 154.7,501.6 156.7,500.8 157.9,500.5 158.7,500.3 160.7,498.1 161.9,497.9 162.7,499.5 164.6,500.5 164.7,499.7 166.7,498.5 167.2,497.3 168.7,498.9 169.9,500.5 170.7,499.8 172.6,499.2 172.7,499.0 174.7,499.6 175.2,500.0 176.7,498.3 177.9,496.6 178.7,494.6 180.0,491.2 180.7,493.7 181.9,496.6 182.7,494.2 183.2,493.9 184.7,496.8 185.9,499.2 186.7,496.9 188.5,492.6 188.7,493.1 190.7,496.0 191.2,497.9 192.7,494.6 193.0,493.9 194.7,498.0 195.2,499.2 196.7,498.6 198.7,499.6 199.2,499.2 200.7,499.8 202.7,500.8 203.2,500.5 204.7,501.4 206.7,501.3 207.1,501.9 208.7,501.3 210.7,501.3 212.5,501.1 212.7,501.3 214.7,500.4 216.5,499.2 216.7,498.9 218.7,499.0 219.1,499.2 220.7,499.9 222.7,501.3 223.1,501.9 224.7,501.7 226.7,501.7 228.7,502.6 230.7,501.5 232.7,501.6 234.7,501.8 236.4,501.6 236.7,501.2 238.7,501.5 240.7,501.6 242.7,501.9 244.7,501.1 246.7,502.2 248.7,501.5 250.7,501.7 252.7,501.9 254.7,501.9 256.7,502.0 258.7,501.7 260.7,501.6 262.7,501.7 263.0,501.6 264.7,501.2 266.7,502.1 268.7,501.3 270.7,501.1 272.7,502.4 274.7,501.6 276.7,501.1 278.7,502.3 280.7,501.5 282.7,502.0 284.7,501.3 286.7,501.5 288.7,500.9 289.6,501.6 290.7,500.8 292.7,501.1 294.7,501.5 296.7,501.8 298.7,502.4 300.7,500.9 302.7,501.7 304.7,501.0 306.7,501.2 308.7,500.6 310.7,500.5 312.7,500.8 313.5,501.1 314.7,500.2 316.2,500.0 316.7,500.2 318.7,500.5 320.2,501.3 320.7,501.7 322.7,500.8 324.7,500.3 325.5,500.0 326.7,500.8 328.7,501.3 329.5,501.3 330.7,501.1 332.7,500.7 333.5,500.5 334.7,500.9 336.7,502.0 337.5,501.9 338.7,502.2 340.7,502.0 342.7,502.1 344.7,501.6 346.7,501.9 348.7,501.1 350.7,502.2 352.7,501.7 354.7,501.7 356.1,501.6 356.7,501.9 358.7,501.6 360.7,501.5 362.7,502.1 364.7,501.7 366.7,501.3 368.7,501.9 370.7,501.1 372.7,502.4 374.7,501.7 376.7,501.8 378.7,502.7 380.7,502.7 382.7,501.9 382.7,501.9 384.7,501.5 386.7,501.0 386.7,500.5 388.7,499.3 389.4,497.9 390.7,493.2 391.2,491.2 392.7,494.0 393.3,495.2 394.7,498.7 396.0,501.3 396.7,501.4 398.0,501.1 398.7,501.1 400.7,500.1 402.0,499.2 402.7,499.2 404.7,500.7 406.0,501.9 406.7,500.3 408.7,500.0 410.0,499.2 410.7,500.2 412.7,500.6 413.9,501.9 414.7,502.2 416.7,501.7 417.9,501.1 418.7,500.2 420.6,497.9 420.7,497.7 422.5,492.6 422.7,493.1 424.6,497.9 424.7,497.5 426.7,496.7 427.2,496.6 428.7,497.2 429.9,497.9 430.7,498.9 432.6,500.5 432.7,500.8 434.7,500.0 436.6,500.0 436.7,500.4 438.7,500.3 440.5,501.1 440.7,501.0 442.7,500.2 444.5,499.2 444.7,499.3 446.7,500.2 447.2,500.5 448.7,505.9 449.1,507.2 450.7,484.6 450.7,484.5 452.2,503.2 452.7,496.7 453.8,479.3 454.7,488.7 455.4,497.9 456.7,481.0 457.0,475.3 458.6,507.2 458.7,507.3 460.2,513.8 460.7,499.4 461.3,476.6 462.7,499.5 462.9,503.2 464.5,473.9 464.7,476.2 466.1,504.5 466.7,491.3 467.7,468.6 468.7,468.5 469.3,467.3 470.7,500.9 470.9,505.9 472.7,497.8 473.0,496.6 474.6,492.6 474.7,492.5 476.5,500.5 476.7,500.9 478.7,498.7 479.1,497.9 480.7,499.7 481.8,500.5 482.7,500.4 484.7,500.2 485.8,499.2 486.7,499.8 488.7,499.7 489.8,500.5 490.7,499.9 492.4,497.9 492.7,498.2 494.7,500.1 495.1,500.5 496.7,500.6 498.7,500.1 499.1,500.0 500.7,499.2 502.7,501.5 504.4,501.3 504.7,501.8 506.7,501.3 508.7,501.3 510.7,501.5 512.7,500.9 514.7,501.6 516.7,501.4 518.7,501.4 520.7,501.2 522.7,501.3 523.0,501.6 524.7,502.0 526.7,502.1 528.7,501.8 530.7,501.6 532.7,501.3 534.7,501.9 536.7,502.3 538.7,501.0 540.7,502.1 542.7,500.7 544.7,501.5 546.7,501.8 548.7,501.1 549.6,501.6 550.7,501.0 552.7,501.7 554.7,502.0 556.7,501.4 558.7,502.1 560.7,501.3 562.7,502.3 564.7,501.7 566.7,501.7 568.7,501.9 570.7,501.7 572.7,502.3 574.7,502.5 576.2,501.6 576.7,501.8 578.7,501.5 580.7,501.1 582.7,501.3 584.7,501.6 586.7,501.6 588.7,501.6 590.7,501.6 592.7,501.8 594.7,501.1 596.7,501.2 598.7,502.1 600.7,501.9 602.7,501.4 602.8,501.6 604.7,502.1 606.7,501.3 608.7,501.5 610.7,500.8 612.7,501.9 614.7,501.5 616.7,501.9 618.7,501.8 620.7,501.5 622.7,501.5 624.7,501.9 626.7,501.3 628.7,501.3 630.7,501.4 632.7,501.7 634.7,501.7 634.7,501.3 636.7,501.1 637.4,500.0 638.7,499.4 640.0,498.7 640.7,499.8 642.7,501.0 642.7,501.3 644.7,501.6 646.7,501.5 648.7,502.2 650.7,501.8 652.7,501.4 653.3,501.6 654.7,501.5 655.3,501.1 656.7,501.1 658.7,500.6 660.6,500.5 660.7,500.4 662.7,498.6 664.6,497.3 664.7,498.5 666.7,498.8 667.3,499.2 668.7,500.3 670.0,500.5 670.7,499.5 672.6,498.4 672.7,498.0 674.7,500.0 675.3,500.5 676.7,500.0 678.7,499.8 679.3,499.2 680.7,499.3 682.7,500.6 683.3,500.5 684.7,500.7 686.7,499.1 687.2,499.2 688.7,500.1 690.7,500.0 691.2,500.5 692.7,500.2 694.7,499.6 695.2,499.2 696.7,499.9 697.9,499.2 698.7,497.4 700.5,493.9 700.7,494.2 702.7,498.6 703.2,499.2 704.7,499.2 706.7,500.4 707.2,500.5 708.7,500.0 710.7,499.8 711.2,500.0 712.7,501.3 713.8,501.9 714.7,501.9 716.7,502.0 717.8,500.5 718.7,499.9 720.5,496.6 720.7,497.0 722.7,495.4 723.2,495.2 724.7,499.8 725.3,501.9 726.7,499.0 727.1,497.9 728.7,497.7 729.8,499.2 730.7,500.8 732.5,501.9 732.7,501.4 734.7,499.3 735.1,499.2 736.7,499.8 737.8,500.5 738.7,501.2 740.7,502.0 741.8,501.9 742.7,501.7 744.7,502.1 745.8,501.9 746.7,501.9 748.7,501.5 749.8,501.9 750.7,501.7 752.7,500.9 753.7,500.5 754.7,499.2 756.4,498.4 756.7,499.1 758.7,499.6 759.1,500.5 760.7,501.0 762.7,500.9 763.1,501.3 764.7,500.7 766.7,500.3 767.0,500.5 768.7,501.2 770.7,501.0 772.4,501.9 772.7,501.8 774.7,502.5 776.7,501.6 777.7,501.9 778.7,501.9 780.7,502.1 782.7,501.6 783.0,501.9 784.7,501.9 786.7,501.2 788.3,501.3 788.7,501.7 790.7,501.6 792.7,501.4 793.6,501.9 794.7,502.3 796.7,501.5 798.7,501.3 799.0,501.3 800.7,500.7 802.7,500.6 804.3,500.5 804.7,500.6 806.7,501.1 808.3,501.3 808.7,501.7 810.7,500.0 812.3,500.0 812.7,499.7 814.7,499.3 814.9,498.7 816.7,499.6 818.7,500.6 818.9,500.5 820.7,500.0 822.7,498.2 822.9,497.9 824.7,499.0 825.6,499.2 826.7,495.8 827.7,492.6 828.7,497.4 829.6,500.5 830.7,499.9 832.2,497.9 832.7,497.0 834.1,495.2 834.7,496.2 836.2,497.9 836.7,497.6 838.7,499.1 840.2,499.2 840.7,499.3 842.7,498.2 843.7,497.9 844.7,497.6 846.7,496.7 846.8,497.3 848.7,498.5 850.7,499.1 850.8,499.2 852.7,499.7 854.7,500.8 854.8,500.5 856.7,500.9 858.7,501.6 858.8,501.9 860.7,501.6 862.7,501.3 862.8,501.9 864.7,502.8 866.7,501.8 868.1,501.9 868.7,501.7 870.7,502.2 872.7,500.6 873.4,501.9 874.7,501.9 876.7,501.9 878.7,501.5 878.8,501.9 880.7,501.4 882.7,499.8 882.8,500.5 884.7,499.9 886.7,499.6 886.7,499.2 888.7,497.0 889.4,497.3 890.7,496.4 892.1,496.6 892.7,497.1 894.7,499.1 894.7,499.2 896.7,499.7 897.9,500.5 898.7,497.7 900.6,489.9 900.7,490.3 902.2,496.6 902.7,496.2 904.7,497.7 904.8,497.9 906.7,496.0 906.7,496.6 908.7,497.6 909.4,499.2 910.7,498.8 912.0,500.5 912.7,501.1 914.7,501.3 916.0,501.9" fill="none" stroke="#b01c3c" stroke-width="1.3" stroke-linejoin="round" stroke-dasharray="4 1.3" /><polyline points="132.7,613.6 132.7,614.5 135.1,610.6 135.9,611.3 137.5,613.7 139.9,618.5 140.6,619.3 142.3,619.3 144.6,615.9 144.7,616.0 147.1,616.0 148.6,617.2 149.5,615.8 151.9,616.2 153.9,614.0 154.3,616.2 156.6,615.9 156.7,616.3 159.1,619.3 159.3,621.2 161.5,618.6 163.3,618.5 163.9,621.7 165.9,623.9 166.3,624.8 168.7,627.3 169.9,631.8 171.1,632.5 173.5,632.8 173.9,634.5 175.9,633.1 177.9,633.2 178.3,631.8 180.7,626.7 181.9,625.2 183.1,628.2 184.5,630.5 185.5,629.0 187.2,626.5 187.9,626.8 189.9,630.5 190.3,630.9 192.7,630.6 193.8,629.2 195.1,626.6 196.5,627.8 197.5,628.2 199.9,628.9 200.5,630.5 202.3,632.2 204.7,633.5 205.8,636.4 207.1,634.4 209.5,630.5 209.8,630.0 211.9,629.2 213.8,629.2 214.3,628.5 216.7,632.5 217.8,634.5 219.1,631.9 221.5,629.2 221.8,630.5 223.9,627.3 225.8,623.9 226.3,622.7 228.7,626.2 229.8,625.2 231.1,628.7 232.4,630.5 233.5,631.0 234.5,636.4 235.9,634.3 237.7,630.5 238.3,628.8 240.7,628.6 241.7,627.8 243.1,627.2 245.5,623.6 247.0,625.2 247.9,624.4 250.3,622.9 252.4,622.0 252.7,622.8 255.1,617.3 256.4,617.2 257.5,618.1 259.9,615.9 260.3,617.2 262.3,614.3 264.3,611.9 264.7,611.1 267.1,615.4 268.3,614.5 269.5,613.9 271.9,613.2 272.3,609.8 274.3,612.9 276.3,614.5 276.7,615.8 279.1,617.4 280.3,617.2 281.5,618.2 283.0,621.2 283.9,620.2 286.3,619.5 286.9,617.2 288.7,615.0 290.9,613.2 291.1,613.6 293.5,615.7 293.6,615.9 295.9,612.8 297.6,609.2 298.3,607.8 300.7,604.5 301.6,603.4 303.1,603.7 305.5,603.5 305.6,603.4 307.9,607.5 308.8,610.6 310.3,612.8 312.2,613.2 312.7,610.9 314.9,608.7 315.1,607.6 317.5,611.8 318.9,615.9 319.9,614.7 321.5,609.8 322.3,610.2 324.7,612.3 325.5,614.5 327.1,611.6 329.5,611.1 329.5,610.6 331.9,610.1 333.5,611.9 334.3,611.9 336.7,618.9 337.5,619.9 339.1,618.9 341.5,620.8 341.5,621.2 343.9,620.4 345.5,619.9 346.3,619.6 348.7,620.9 349.5,621.2 351.1,624.4 353.4,625.2 353.5,624.6 355.9,626.7 356.6,629.2 358.3,625.1 360.1,625.2 360.7,624.7 363.1,623.8 364.1,623.9 365.5,621.9 367.9,617.0 368.1,617.2 370.3,612.3 370.7,611.9 372.7,610.4 374.7,610.6 375.1,609.6 377.5,608.0 378.7,606.6 379.9,611.2 381.4,618.5 382.3,617.3 384.0,614.5 384.7,616.2 386.7,611.9 387.1,611.7 389.4,606.6 389.5,604.6 391.9,606.6 393.3,603.4 394.3,604.3 396.7,605.2 396.7,604.1 399.1,608.7 400.6,609.2 401.5,610.9 403.9,614.9 404.6,617.2 406.3,616.4 408.6,617.2 408.7,616.0 411.1,614.8 411.3,614.5 413.5,614.4 415.3,611.9 415.9,611.9 418.3,614.4 419.3,614.5 420.7,618.9 421.9,618.5 423.1,613.7 424.6,610.6 425.0,610.9 425.5,612.7 427.8,619.8 427.9,619.3 430.3,612.2 430.5,612.9 432.7,617.0 433.3,619.8 435.1,621.2 436.0,622.0 437.5,624.2 439.5,626.0 439.9,625.9 441.9,629.5 442.3,629.1 444.7,626.6 446.4,623.3 447.1,621.8 449.5,615.6 449.8,613.6 451.9,623.1 452.2,624.0 454.3,620.5 455.3,617.8 456.7,621.6 458.8,621.9 459.1,620.2 460.2,608.8 461.5,611.2 462.9,613.6 463.9,615.0 466.3,614.5 466.4,615.7 468.4,620.5 468.7,619.0 470.5,611.6 471.1,614.8 473.3,622.6 473.5,623.2 475.9,622.7 477.4,619.8 478.3,620.5 480.7,620.5 482.9,624.0 483.1,626.1 485.5,622.3 487.1,619.1 487.9,614.4 489.1,610.2 490.3,612.9 492.7,613.6 495.0,615.7 495.1,613.6 496.4,617.2 497.5,614.6 499.1,611.9 499.9,610.7 502.3,611.7 503.1,609.2 504.7,609.1 505.7,610.6 507.1,612.0 509.5,615.2 509.7,615.9 511.9,614.7 513.7,614.5 514.3,613.3 516.7,613.8 517.7,613.2 519.1,616.6 520.3,617.2 521.5,617.2 523.9,613.7 524.3,614.5 526.3,611.2 528.3,610.6 528.7,610.8 531.1,610.6 532.3,611.9 533.5,611.9 535.9,612.2 536.3,614.5 538.3,614.5 540.3,609.8 540.7,611.2 543.1,611.5 544.3,614.0 545.5,614.9 547.9,614.9 548.3,613.2 550.3,612.3 552.3,617.2 552.7,616.9 555.1,619.5 556.3,621.2 557.5,624.4 559.9,628.3 560.2,629.2 562.3,626.2 564.2,623.9 564.7,623.5 567.1,624.2 568.2,621.2 569.5,621.3 571.9,613.3 572.2,613.2 574.3,608.7 576.2,606.6 576.7,609.7 578.9,606.0 579.1,605.5 581.5,613.6 581.5,614.5 583.9,616.1 585.5,617.2 586.3,616.8 588.7,614.2 589.5,611.9 591.1,613.9 593.5,614.8 593.5,615.9 595.9,614.9 597.5,613.2 598.3,612.8 600.7,612.7 601.5,609.8 603.1,610.6 605.5,610.3 605.5,611.9 607.9,616.6 608.1,618.5 610.3,618.1 612.1,614.5 612.7,613.4 615.1,609.1 616.1,610.6 617.5,610.3 619.9,611.8 620.1,611.9 622.3,613.3 624.1,611.9 624.7,611.0 627.1,614.7 628.1,614.5 629.5,618.3 630.7,619.9 631.9,615.1 633.4,610.6 634.3,610.0 636.7,611.6 637.4,609.2 639.1,613.0 641.4,613.2 641.5,614.1 643.9,609.8 645.4,607.1 646.3,608.8 648.7,608.2 649.4,608.7 651.1,607.4 653.3,606.0 653.5,605.0 655.9,605.4 656.7,605.2 658.3,607.8 660.6,611.9 660.7,615.2 663.1,616.5 664.6,619.9 665.5,621.9 667.9,623.6 668.6,622.5 670.3,621.2 672.6,619.9 672.7,621.3 675.1,619.7 676.6,623.9 677.5,623.4 679.9,622.7 680.6,621.2 682.3,617.2 684.6,618.5 684.7,617.1 687.1,617.3 688.6,614.5 689.5,614.5 691.9,614.3 692.6,615.9 694.3,618.3 696.6,622.5 696.7,621.8 699.1,620.9 700.5,618.5 701.5,618.8 703.9,617.1 704.5,617.2 706.3,614.1 708.5,611.9 708.7,611.8 711.1,612.6 712.5,610.6 713.5,611.9 715.9,614.7 716.5,614.5 718.3,617.3 720.5,621.2 720.7,619.5 723.1,617.8 724.5,617.2 725.5,617.3 727.9,615.1 728.5,614.5 730.3,615.2 732.5,618.5 732.7,616.1 735.1,612.6 736.5,609.2 737.5,607.7 739.9,604.9 739.9,605.2 742.3,611.7 743.1,614.5 744.7,613.8 747.1,612.3 747.1,611.9 749.5,612.2 751.1,610.6 751.9,610.9 754.3,609.0 755.1,606.6 756.7,610.7 759.1,614.1 759.1,614.5 761.5,614.5 761.7,614.5 763.9,613.0 765.7,610.6 766.3,609.6 768.7,608.3 769.7,606.6 771.1,606.6 773.5,601.8 773.7,602.6 775.9,598.3 777.7,598.6 778.3,601.0 780.7,603.6 781.7,605.2 783.1,607.9 785.5,608.7 785.7,610.6 787.9,614.1 789.7,613.2 790.3,614.5 792.7,615.1 793.6,615.9 795.1,614.0 797.5,612.2 797.6,611.9 799.9,605.7 801.1,602.6 802.3,602.7 804.3,603.9 804.7,603.3 807.1,611.0 808.3,611.9 809.5,612.6 811.9,614.4 812.3,614.5 814.3,616.6 816.3,618.5 816.7,616.0 819.1,621.0 820.2,621.2 821.5,622.4 823.9,625.7 824.2,626.5 826.3,625.9 828.2,625.2 828.7,624.0 831.1,625.8 832.2,624.6 833.5,620.3 834.9,617.2 835.9,615.8 838.3,615.0 838.9,615.9 840.7,614.3 842.9,611.9 843.1,612.5 845.5,607.2 846.3,606.6 847.9,607.3 849.5,611.9 850.3,612.9 852.7,609.6 853.5,610.6 855.1,614.1 857.5,615.8 857.5,615.9 859.9,619.0 861.5,622.5 862.3,621.2 864.7,621.0 865.5,619.9 867.1,620.5 869.5,618.6 870.8,618.5 871.9,619.7 874.3,621.0 874.8,618.5 876.7,616.4 878.8,614.5 879.1,613.1 881.5,612.6 883.9,611.6 884.1,613.2 886.3,611.4 888.1,611.3 888.7,610.4 891.1,609.2 892.1,610.6 893.5,610.3 895.9,604.9 896.1,607.9 898.3,604.8 900.0,605.2 900.7,608.5 903.1,610.5 904.0,610.6 905.5,613.3 906.7,614.5 907.9,613.3 909.4,610.6 910.3,613.9 912.7,615.6 913.3,615.9 915.1,617.1 917.3,618.5" fill="none" stroke="#2f6b4f" stroke-width="1.5" stroke-linejoin="round" stroke-dasharray="4 1.3" /><path d="M132.5,745.2H448.5M472,745.2H917.3" stroke="#000" stroke-width="1.5"/><path d="M449.2,745 L448.9,737.3 L450.4,717.7" fill="none" stroke="#000" stroke-width="1.4" stroke-linejoin="round"/><path d="M451.4,743.6 L453.2,745.5 L457.3,744.5 L459.1,738.2 L460.2,734 L460,739.6 L462.7,742.7 L465,745 L468.2,743.6 L470.5,741.4 L471.4,737.3 L471.6,741.8 L472.3,745.2" fill="none" stroke="#111" stroke-width="1.1" stroke-linejoin="round"/><line x1="132.5" y1="79.5" x2="917.3" y2="79.5" stroke="#8c8c8c" stroke-width="1.6"/><line x1="917.3" y1="79.5" x2="917.3" y2="147.1" stroke="#959595" stroke-width="1.5"/><line x1="131.7" y1="147.1" x2="917.9" y2="147.1" stroke="#8c8c8c" stroke-width="1.6"/><line x1="132.5" y1="78.9" x2="132.5" y2="147.9" stroke="#8c8c8c" stroke-width="1.6"/><path d="M681.9,147.1v-6M681.9,79.5v6M838.8,147.1v-6M838.8,79.5v6" stroke="#c4c4c4" stroke-width="1" fill="none"/><path d="M132.5,147.1v-6M132.5,79.5v6M211.0,147.1v-6M211.0,79.5v6M289.5,147.1v-6M289.5,79.5v6M367.9,147.1v-6M367.9,79.5v6M446.4,147.1v-6M446.4,79.5v6M524.9,147.1v-6M524.9,79.5v6M603.4,147.1v-6M603.4,79.5v6M760.3,147.1v-6M760.3,79.5v6M917.3,147.1v-6M917.3,79.5v6M132.5,113.3h6M917.3,113.3h-6" stroke="#666" stroke-width="1.4" fill="none"/><text x="132.5" y="172.6" text-anchor="middle" style="font-family:'Liberation Serif',serif;font-size:18px;fill:#262626;stroke:#262626;stroke-width:0.35px">0</text><text x="211.0" y="172.6" text-anchor="middle" style="font-family:'Liberation Serif',serif;font-size:18px;fill:#262626;stroke:#262626;stroke-width:0.35px">0.5</text><text x="289.5" y="172.6" text-anchor="middle" style="font-family:'Liberation Serif',serif;font-size:18px;fill:#262626;stroke:#262626;stroke-width:0.35px">1</text><text x="367.9" y="172.6" text-anchor="middle" style="font-family:'Liberation Serif',serif;font-size:18px;fill:#262626;stroke:#262626;stroke-width:0.35px">1.5</text><text x="446.4" y="172.6" text-anchor="middle" style="font-family:'Liberation Serif',serif;font-size:18px;fill:#262626;stroke:#262626;stroke-width:0.35px">2</text><text x="524.9" y="172.6" text-anchor="middle" style="font-family:'Liberation Serif',serif;font-size:18px;fill:#262626;stroke:#262626;stroke-width:0.35px">2.5</text><text x="603.4" y="172.6" text-anchor="middle" style="font-family:'Liberation Serif',serif;font-size:18px;fill:#262626;stroke:#262626;stroke-width:0.35px">3</text><text x="681.9" y="172.6" text-anchor="middle" style="font-family:'Liberation Serif',serif;font-size:18px;fill:#262626;stroke:#262626;stroke-width:0.35px">3.5</text><text x="760.3" y="172.6" text-anchor="middle" style="font-family:'Liberation Serif',serif;font-size:18px;fill:#262626;stroke:#262626;stroke-width:0.35px">4</text><text x="838.8" y="172.6" text-anchor="middle" style="font-family:'Liberation Serif',serif;font-size:18px;fill:#262626;stroke:#262626;stroke-width:0.35px">4.5</text><text x="917.3" y="172.6" text-anchor="middle" style="font-family:'Liberation Serif',serif;font-size:18px;fill:#262626;stroke:#262626;stroke-width:0.35px">5</text><text x="124.5" y="86.5" text-anchor="end" style="font-family:'Liberation Serif',serif;font-size:18px;fill:#262626;stroke:#262626;stroke-width:0.35px">0.5</text><text x="124.5" y="120.3" text-anchor="end" style="font-family:'Liberation Serif',serif;font-size:18px;fill:#262626;stroke:#262626;stroke-width:0.35px">0</text><text x="124.5" y="154.1" text-anchor="end" style="font-family:'Liberation Serif',serif;font-size:18px;fill:#262626;stroke:#262626;stroke-width:0.35px">-0.5</text><text x="471.5" y="73.2" textLength="107" lengthAdjust="spacingAndGlyphs" style="font-family:'Liberation Serif',serif;font-weight:bold;font-size:19px;fill:#000;stroke:#000;stroke-width:0.3px">Original EEG</text><line x1="132.5" y1="204.8" x2="917.3" y2="204.8" stroke="#8c8c8c" stroke-width="1.6"/><line x1="917.3" y1="204.8" x2="917.3" y2="272.4" stroke="#959595" stroke-width="1.5"/><line x1="131.7" y1="272.4" x2="917.9" y2="272.4" stroke="#8c8c8c" stroke-width="1.6"/><line x1="132.5" y1="204.20000000000002" x2="132.5" y2="273.2" stroke="#8c8c8c" stroke-width="1.6"/><path d="M681.9,272.4v-6M681.9,204.8v6M838.8,272.4v-6M838.8,204.8v6" stroke="#c4c4c4" stroke-width="1" fill="none"/><path d="M132.5,272.4v-6M132.5,204.8v6M211.0,272.4v-6M211.0,204.8v6M289.5,272.4v-6M289.5,204.8v6M367.9,272.4v-6M367.9,204.8v6M446.4,272.4v-6M446.4,204.8v6M524.9,272.4v-6M524.9,204.8v6M603.4,272.4v-6M603.4,204.8v6M760.3,272.4v-6M760.3,204.8v6M917.3,272.4v-6M917.3,204.8v6M132.5,220.0h6M917.3,220.0h-6M132.5,241.3h6M917.3,241.3h-6M132.5,262.6h6M917.3,262.6h-6" stroke="#666" stroke-width="1.4" fill="none"/><text x="132.5" y="297.9" text-anchor="middle" style="font-family:'Liberation Serif',serif;font-size:18px;fill:#262626;stroke:#262626;stroke-width:0.35px">0</text><text x="211.0" y="297.9" text-anchor="middle" style="font-family:'Liberation Serif',serif;font-size:18px;fill:#262626;stroke:#262626;stroke-width:0.35px">0.5</text><text x="289.5" y="297.9" text-anchor="middle" style="font-family:'Liberation Serif',serif;font-size:18px;fill:#262626;stroke:#262626;stroke-width:0.35px">1</text><text x="367.9" y="297.9" text-anchor="middle" style="font-family:'Liberation Serif',serif;font-size:18px;fill:#262626;stroke:#262626;stroke-width:0.35px">1.5</text><text x="446.4" y="297.9" text-anchor="middle" style="font-family:'Liberation Serif',serif;font-size:18px;fill:#262626;stroke:#262626;stroke-width:0.35px">2</text><text x="524.9" y="297.9" text-anchor="middle" style="font-family:'Liberation Serif',serif;font-size:18px;fill:#262626;stroke:#262626;stroke-width:0.35px">2.5</text><text x="603.4" y="297.9" text-anchor="middle" style="font-family:'Liberation Serif',serif;font-size:18px;fill:#262626;stroke:#262626;stroke-width:0.35px">3</text><text x="681.9" y="297.9" text-anchor="middle" style="font-family:'Liberation Serif',serif;font-size:18px;fill:#262626;stroke:#262626;stroke-width:0.35px">3.5</text><text x="760.3" y="297.9" text-anchor="middle" style="font-family:'Liberation Serif',serif;font-size:18px;fill:#262626;stroke:#262626;stroke-width:0.35px">4</text><text x="838.8" y="297.9" text-anchor="middle" style="font-family:'Liberation Serif',serif;font-size:18px;fill:#262626;stroke:#262626;stroke-width:0.35px">4.5</text><text x="917.3" y="297.9" text-anchor="middle" style="font-family:'Liberation Serif',serif;font-size:18px;fill:#262626;stroke:#262626;stroke-width:0.35px">5</text><text x="124.5" y="227.0" text-anchor="end" style="font-family:'Liberation Serif',serif;font-size:18px;fill:#262626;stroke:#262626;stroke-width:0.35px">0.2</text><text x="124.5" y="248.3" text-anchor="end" style="font-family:'Liberation Serif',serif;font-size:18px;fill:#262626;stroke:#262626;stroke-width:0.35px">0</text><text x="124.5" y="269.6" text-anchor="end" style="font-family:'Liberation Serif',serif;font-size:18px;fill:#262626;stroke:#262626;stroke-width:0.35px">-0.2</text><text x="393.5" y="198.5" textLength="263" lengthAdjust="spacingAndGlyphs" style="font-family:'Liberation Serif',serif;font-weight:bold;font-size:19px;fill:#000;stroke:#000;stroke-width:0.3px">Original EMG and Noise source</text><line x1="132.5" y1="330.0" x2="917.3" y2="330.0" stroke="#8c8c8c" stroke-width="1.6"/><line x1="917.3" y1="330.0" x2="917.3" y2="397.6" stroke="#959595" stroke-width="1.5"/><line x1="131.7" y1="397.6" x2="917.9" y2="397.6" stroke="#8c8c8c" stroke-width="1.6"/><line x1="132.5" y1="329.4" x2="132.5" y2="398.40000000000003" stroke="#8c8c8c" stroke-width="1.6"/><path d="M681.9,397.6v-6M681.9,330.0v6M838.8,397.6v-6M838.8,330.0v6" stroke="#c4c4c4" stroke-width="1" fill="none"/><path d="M132.5,397.6v-6M132.5,330.0v6M211.0,397.6v-6M211.0,330.0v6M289.5,397.6v-6M289.5,330.0v6M367.9,397.6v-6M367.9,330.0v6M446.4,397.6v-6M446.4,330.0v6M524.9,397.6v-6M524.9,330.0v6M603.4,397.6v-6M603.4,330.0v6M760.3,397.6v-6M760.3,330.0v6M917.3,397.6v-6M917.3,330.0v6M132.5,338.2h6M917.3,338.2h-6M132.5,361.0h6M917.3,361.0h-6M132.5,383.7h6M917.3,383.7h-6" stroke="#666" stroke-width="1.4" fill="none"/><text x="132.5" y="423.1" text-anchor="middle" style="font-family:'Liberation Serif',serif;font-size:18px;fill:#262626;stroke:#262626;stroke-width:0.35px">0</text><text x="211.0" y="423.1" text-anchor="middle" style="font-family:'Liberation Serif',serif;font-size:18px;fill:#262626;stroke:#262626;stroke-width:0.35px">0.5</text><text x="289.5" y="423.1" text-anchor="middle" style="font-family:'Liberation Serif',serif;font-size:18px;fill:#262626;stroke:#262626;stroke-width:0.35px">1</text><text x="367.9" y="423.1" text-anchor="middle" style="font-family:'Liberation Serif',serif;font-size:18px;fill:#262626;stroke:#262626;stroke-width:0.35px">1.5</text><text x="446.4" y="423.1" text-anchor="middle" style="font-family:'Liberation Serif',serif;font-size:18px;fill:#262626;stroke:#262626;stroke-width:0.35px">2</text><text x="524.9" y="423.1" text-anchor="middle" style="font-family:'Liberation Serif',serif;font-size:18px;fill:#262626;stroke:#262626;stroke-width:0.35px">2.5</text><text x="603.4" y="423.1" text-anchor="middle" style="font-family:'Liberation Serif',serif;font-size:18px;fill:#262626;stroke:#262626;stroke-width:0.35px">3</text><text x="681.9" y="423.1" text-anchor="middle" style="font-family:'Liberation Serif',serif;font-size:18px;fill:#262626;stroke:#262626;stroke-width:0.35px">3.5</text><text x="760.3" y="423.1" text-anchor="middle" style="font-family:'Liberation Serif',serif;font-size:18px;fill:#262626;stroke:#262626;stroke-width:0.35px">4</text><text x="838.8" y="423.1" text-anchor="middle" style="font-family:'Liberation Serif',serif;font-size:18px;fill:#262626;stroke:#262626;stroke-width:0.35px">4.5</text><text x="917.3" y="423.1" text-anchor="middle" style="font-family:'Liberation Serif',serif;font-size:18px;fill:#262626;stroke:#262626;stroke-width:0.35px">5</text><text x="124.5" y="345.2" text-anchor="end" style="font-family:'Liberation Serif',serif;font-size:18px;fill:#262626;stroke:#262626;stroke-width:0.35px">0.2</text><text x="124.5" y="368.0" text-anchor="end" style="font-family:'Liberation Serif',serif;font-size:18px;fill:#262626;stroke:#262626;stroke-width:0.35px">0</text><text x="124.5" y="390.7" text-anchor="end" style="font-family:'Liberation Serif',serif;font-size:18px;fill:#262626;stroke:#262626;stroke-width:0.35px">-0.2</text><text x="432.5" y="323.7" textLength="185" lengthAdjust="spacingAndGlyphs" style="font-family:'Liberation Serif',serif;font-weight:bold;font-size:19px;fill:#000;stroke:#000;stroke-width:0.3px">EEG with Noise Signal</text><line x1="132.5" y1="456.0" x2="917.3" y2="456.0" stroke="#c9c9c9" stroke-width="1.2"/><line x1="917.3" y1="456.0" x2="917.3" y2="523.6" stroke="#c9c9c9" stroke-width="1.2"/><line x1="131.7" y1="523.6" x2="917.9" y2="523.6" stroke="#8c8c8c" stroke-width="1.6"/><line x1="132.5" y1="455.4" x2="132.5" y2="524.4" stroke="#8c8c8c" stroke-width="1.6"/><path d="M681.9,523.6v-6M681.9,456.0v6M838.8,523.6v-6M838.8,456.0v6" stroke="#c4c4c4" stroke-width="1" fill="none"/><path d="M132.5,523.6v-6M132.5,456.0v6M211.0,523.6v-6M211.0,456.0v6M289.5,523.6v-6M289.5,456.0v6M367.9,523.6v-6M367.9,456.0v6M446.4,523.6v-6M446.4,456.0v6M524.9,523.6v-6M524.9,456.0v6M603.4,523.6v-6M603.4,456.0v6M760.3,523.6v-6M760.3,456.0v6M917.3,523.6v-6M917.3,456.0v6M132.5,478.8h6M917.3,478.8h-6M132.5,501.6h6M917.3,501.6h-6" stroke="#666" stroke-width="1.4" fill="none"/><text x="132.5" y="549.1" text-anchor="middle" style="font-family:'Liberation Serif',serif;font-size:18px;fill:#262626;stroke:#262626;stroke-width:0.35px">0</text><text x="211.0" y="549.1" text-anchor="middle" style="font-family:'Liberation Serif',serif;font-size:18px;fill:#262626;stroke:#262626;stroke-width:0.35px">0.5</text><text x="289.5" y="549.1" text-anchor="middle" style="font-family:'Liberation Serif',serif;font-size:18px;fill:#262626;stroke:#262626;stroke-width:0.35px">1</text><text x="367.9" y="549.1" text-anchor="middle" style="font-family:'Liberation Serif',serif;font-size:18px;fill:#262626;stroke:#262626;stroke-width:0.35px">1.5</text><text x="446.4" y="549.1" text-anchor="middle" style="font-family:'Liberation Serif',serif;font-size:18px;fill:#262626;stroke:#262626;stroke-width:0.35px">2</text><text x="524.9" y="549.1" text-anchor="middle" style="font-family:'Liberation Serif',serif;font-size:18px;fill:#262626;stroke:#262626;stroke-width:0.35px">2.5</text><text x="603.4" y="549.1" text-anchor="middle" style="font-family:'Liberation Serif',serif;font-size:18px;fill:#262626;stroke:#262626;stroke-width:0.35px">3</text><text x="681.9" y="549.1" text-anchor="middle" style="font-family:'Liberation Serif',serif;font-size:18px;fill:#262626;stroke:#262626;stroke-width:0.35px">3.5</text><text x="760.3" y="549.1" text-anchor="middle" style="font-family:'Liberation Serif',serif;font-size:18px;fill:#262626;stroke:#262626;stroke-width:0.35px">4</text><text x="838.8" y="549.1" text-anchor="middle" style="font-family:'Liberation Serif',serif;font-size:18px;fill:#262626;stroke:#262626;stroke-width:0.35px">4.5</text><text x="917.3" y="549.1" text-anchor="middle" style="font-family:'Liberation Serif',serif;font-size:18px;fill:#262626;stroke:#262626;stroke-width:0.35px">5</text><text x="124.5" y="463.0" text-anchor="end" style="font-family:'Liberation Serif',serif;font-size:18px;fill:#262626;stroke:#262626;stroke-width:0.35px">-0.2</text><text x="124.5" y="485.8" text-anchor="end" style="font-family:'Liberation Serif',serif;font-size:18px;fill:#262626;stroke:#262626;stroke-width:0.35px">0.2</text><text x="124.5" y="508.6" text-anchor="end" style="font-family:'Liberation Serif',serif;font-size:18px;fill:#262626;stroke:#262626;stroke-width:0.35px">0</text><text x="124.5" y="531.0" text-anchor="end" style="font-family:'Liberation Serif',serif;font-size:18px;fill:#262626;stroke:#262626;stroke-width:0.35px">-0.2</text><text x="456.0" y="449.7" textLength="138" lengthAdjust="spacingAndGlyphs" style="font-family:'Liberation Serif',serif;font-weight:bold;font-size:19px;fill:#000;stroke:#000;stroke-width:0.3px">Estimated Noise</text><line x1="917.3" y1="581.8" x2="917.3" y2="649.4" stroke="#c9c9c9" stroke-width="1.2"/><line x1="131.7" y1="649.4" x2="917.9" y2="649.4" stroke="#8c8c8c" stroke-width="1.6"/><line x1="132.5" y1="581.1999999999999" x2="132.5" y2="650.1999999999999" stroke="#8c8c8c" stroke-width="1.6"/><path d="M681.9,649.4v-6M681.9,581.8v6M838.8,649.4v-6M838.8,581.8v6" stroke="#c4c4c4" stroke-width="1" fill="none"/><path d="M132.5,649.4v-6M132.5,581.8v6M211.0,649.4v-6M211.0,581.8v6M289.5,649.4v-6M289.5,581.8v6M367.9,649.4v-6M367.9,581.8v6M446.4,649.4v-6M446.4,581.8v6M524.9,649.4v-6M524.9,581.8v6M603.4,649.4v-6M603.4,581.8v6M760.3,649.4v-6M760.3,581.8v6M917.3,649.4v-6M917.3,581.8v6M132.5,615.6h6M917.3,615.6h-6" stroke="#666" stroke-width="1.4" fill="none"/><text x="132.5" y="674.9" text-anchor="middle" style="font-family:'Liberation Serif',serif;font-size:18px;fill:#262626;stroke:#262626;stroke-width:0.35px">0</text><text x="211.0" y="674.9" text-anchor="middle" style="font-family:'Liberation Serif',serif;font-size:18px;fill:#262626;stroke:#262626;stroke-width:0.35px">0.5</text><text x="289.5" y="674.9" text-anchor="middle" style="font-family:'Liberation Serif',serif;font-size:18px;fill:#262626;stroke:#262626;stroke-width:0.35px">1</text><text x="367.9" y="674.9" text-anchor="middle" style="font-family:'Liberation Serif',serif;font-size:18px;fill:#262626;stroke:#262626;stroke-width:0.35px">1.5</text><text x="446.4" y="674.9" text-anchor="middle" style="font-family:'Liberation Serif',serif;font-size:18px;fill:#262626;stroke:#262626;stroke-width:0.35px">2</text><text x="524.9" y="674.9" text-anchor="middle" style="font-family:'Liberation Serif',serif;font-size:18px;fill:#262626;stroke:#262626;stroke-width:0.35px">2.5</text><text x="603.4" y="674.9" text-anchor="middle" style="font-family:'Liberation Serif',serif;font-size:18px;fill:#262626;stroke:#262626;stroke-width:0.35px">3</text><text x="681.9" y="674.9" text-anchor="middle" style="font-family:'Liberation Serif',serif;font-size:18px;fill:#262626;stroke:#262626;stroke-width:0.35px">3.5</text><text x="760.3" y="674.9" text-anchor="middle" style="font-family:'Liberation Serif',serif;font-size:18px;fill:#262626;stroke:#262626;stroke-width:0.35px">4</text><text x="838.8" y="674.9" text-anchor="middle" style="font-family:'Liberation Serif',serif;font-size:18px;fill:#262626;stroke:#262626;stroke-width:0.35px">4.5</text><text x="917.3" y="674.9" text-anchor="middle" style="font-family:'Liberation Serif',serif;font-size:18px;fill:#262626;stroke:#262626;stroke-width:0.35px">5</text><text x="124.5" y="588.8" text-anchor="end" style="font-family:'Liberation Serif',serif;font-size:18px;fill:#262626;stroke:#262626;stroke-width:0.35px">0.5</text><text x="124.5" y="622.6" text-anchor="end" style="font-family:'Liberation Serif',serif;font-size:18px;fill:#262626;stroke:#262626;stroke-width:0.35px">0</text><text x="124.5" y="656.4" text-anchor="end" style="font-family:'Liberation Serif',serif;font-size:18px;fill:#262626;stroke:#262626;stroke-width:0.35px">-0.5</text><text x="365.5" y="575.5" textLength="319" lengthAdjust="spacingAndGlyphs" style="font-family:'Liberation Serif',serif;font-weight:bold;font-size:19px;fill:#000;stroke:#000;stroke-width:0.3px">Estimated EEG after Artifact Removal</text><line x1="132.5" y1="707.0" x2="917.3" y2="707.0" stroke="#c9c9c9" stroke-width="1.2"/><line x1="917.3" y1="707.0" x2="917.3" y2="774.6" stroke="#c9c9c9" stroke-width="1.2"/><line x1="131.7" y1="774.6" x2="917.9" y2="774.6" stroke="#262626" stroke-width="1.6"/><line x1="132.5" y1="706.4" x2="132.5" y2="775.4" stroke="#262626" stroke-width="1.6"/><path d="M681.9,774.6v-6M681.9,707.0v6M838.8,774.6v-6M838.8,707.0v6" stroke="#c4c4c4" stroke-width="1" fill="none"/><path d="M132.5,774.6v-6M132.5,707.0v6M211.0,774.6v-6M211.0,707.0v6M289.5,774.6v-6M289.5,707.0v6M367.9,774.6v-6M367.9,707.0v6M446.4,774.6v-6M446.4,707.0v6M524.9,774.6v-6M524.9,707.0v6M603.4,774.6v-6M603.4,707.0v6M760.3,774.6v-6M760.3,707.0v6M917.3,774.6v-6M917.3,707.0v6M132.5,726.3h6M917.3,726.3h-6M132.5,745.6h6M917.3,745.6h-6M132.5,764.9h6M917.3,764.9h-6" stroke="#262626" stroke-width="1.4" fill="none"/><text x="132.5" y="800.1" text-anchor="middle" style="font-family:'Liberation Serif',serif;font-size:18px;fill:#262626;stroke:#262626;stroke-width:0.35px">0</text><text x="211.0" y="800.1" text-anchor="middle" style="font-family:'Liberation Serif',serif;font-size:18px;fill:#262626;stroke:#262626;stroke-width:0.35px">0.5</text><text x="289.5" y="800.1" text-anchor="middle" style="font-family:'Liberation Serif',serif;font-size:18px;fill:#262626;stroke:#262626;stroke-width:0.35px">1</text><text x="367.9" y="800.1" text-anchor="middle" style="font-family:'Liberation Serif',serif;font-size:18px;fill:#262626;stroke:#262626;stroke-width:0.35px">1.5</text><text x="446.4" y="800.1" text-anchor="middle" style="font-family:'Liberation Serif',serif;font-size:18px;fill:#262626;stroke:#262626;stroke-width:0.35px">2</text><text x="524.9" y="800.1" text-anchor="middle" style="font-family:'Liberation Serif',serif;font-size:18px;fill:#262626;stroke:#262626;stroke-width:0.35px">2.5</text><text x="603.4" y="800.1" text-anchor="middle" style="font-family:'Liberation Serif',serif;font-size:18px;fill:#262626;stroke:#262626;stroke-width:0.35px">3</text><text x="681.9" y="800.1" text-anchor="middle" style="font-family:'Liberation Serif',serif;font-size:18px;fill:#262626;stroke:#262626;stroke-width:0.35px">3.5</text><text x="760.3" y="800.1" text-anchor="middle" style="font-family:'Liberation Serif',serif;font-size:18px;fill:#262626;stroke:#262626;stroke-width:0.35px">4</text><text x="838.8" y="800.1" text-anchor="middle" style="font-family:'Liberation Serif',serif;font-size:18px;fill:#262626;stroke:#262626;stroke-width:0.35px">4.5</text><text x="917.3" y="800.1" text-anchor="middle" style="font-family:'Liberation Serif',serif;font-size:18px;fill:#262626;stroke:#262626;stroke-width:0.35px">5</text><text x="124.5" y="714.0" text-anchor="end" style="font-family:'Liberation Serif',serif;font-size:18px;fill:#262626;stroke:#262626;stroke-width:0.35px">4</text><text x="124.5" y="733.3" text-anchor="end" style="font-family:'Liberation Serif',serif;font-size:18px;fill:#262626;stroke:#262626;stroke-width:0.35px">2</text><text x="124.5" y="752.6" text-anchor="end" style="font-family:'Liberation Serif',serif;font-size:18px;fill:#262626;stroke:#262626;stroke-width:0.35px">0</text><text x="124.5" y="771.9" text-anchor="end" style="font-family:'Liberation Serif',serif;font-size:18px;fill:#262626;stroke:#262626;stroke-width:0.35px">-2</text><text x="185.0" y="700.7" textLength="680" lengthAdjust="spacingAndGlyphs" style="font-family:'Liberation Serif',serif;font-weight:bold;font-size:19px;fill:#000;stroke:#000;stroke-width:0.3px">Difference between the Estimated and the Original Clean Signal (Squared Root)</text><text x="134" y="702" style="font-family:'Liberation Serif',serif;font-size:21px;fill:#404040">×</text><text x="148" y="702" textLength="19" lengthAdjust="spacingAndGlyphs" style="font-family:'Liberation Serif',serif;font-size:18px;fill:#262626;stroke:#262626;stroke-width:0.35px">10</text><text x="168.5" y="692.5" textLength="12" lengthAdjust="spacingAndGlyphs" style="font-family:'Liberation Serif',serif;font-size:14px;fill:#262626">-3</text><text x="487" y="825" textLength="77" lengthAdjust="spacingAndGlyphs" style="font-family:'Liberation Serif',serif;font-weight:bold;font-size:20px;fill:#000">Time (s)</text><text transform="translate(88,468) rotate(-90)" x="0" y="0" textLength="96" lengthAdjust="spacingAndGlyphs" style="font-family:'Liberation Serif',serif;font-weight:bold;font-size:20px;fill:#000">Amplitude</text></svg>
</body></html>
